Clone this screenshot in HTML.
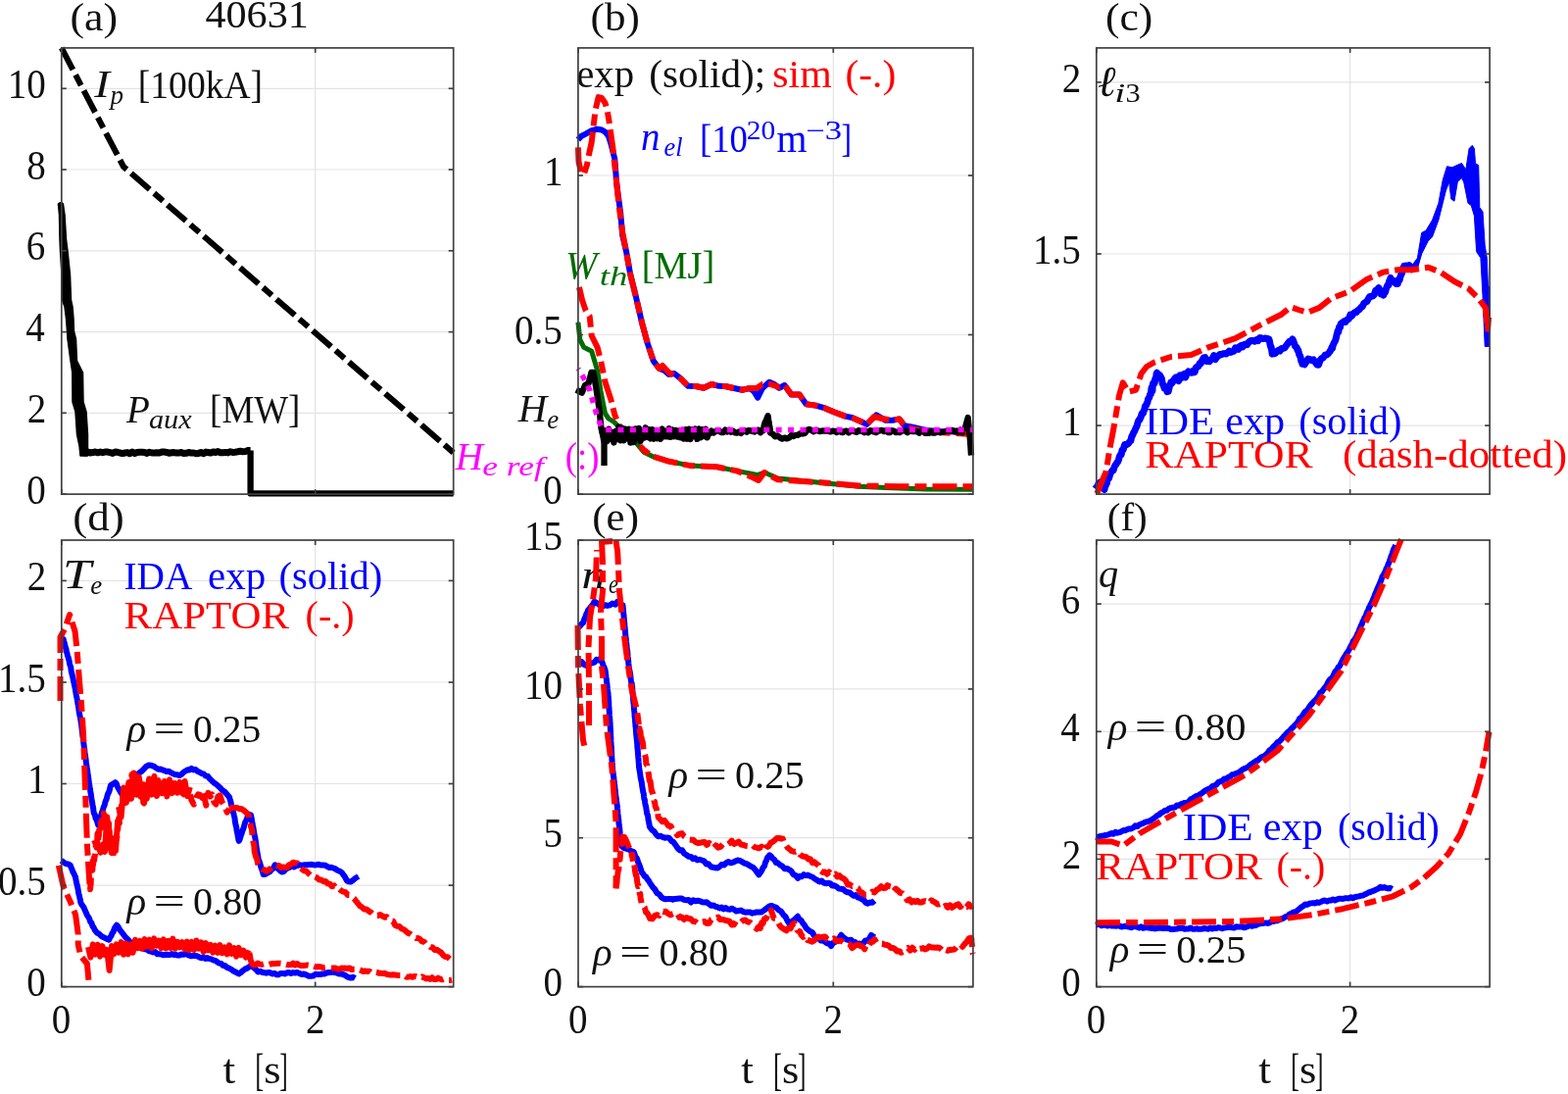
<!DOCTYPE html>
<html><head><meta charset="utf-8"><style>
html,body{margin:0;padding:0;background:#fff;width:1600px;height:1116px;overflow:hidden}
svg{display:block}

.g{stroke:#e3e3e3;stroke-width:1.2;fill:none}
.ax{stroke:#404040;stroke-width:1.7;fill:none}
.tk{stroke:#404040;stroke-width:1.7}
text{font-family:'Liberation Serif', 'DejaVu Serif', serif;}
.t{font-size:42px;fill:#222}
.i{font-style:italic}
.L{font-size:39px}
.k{stroke:#000;stroke-width:6.3;fill:none;stroke-linejoin:round;stroke-linecap:butt}
.k7{stroke:#000;stroke-width:7;fill:none;stroke-linejoin:round}
.kdd{stroke:#000;stroke-width:6;fill:none;stroke-dasharray:25 6 12 6;stroke-linejoin:round}
.b{stroke:#0000ff;stroke-width:6;fill:none;stroke-linejoin:round}
.bt{stroke:#0000ff;stroke-width:7;fill:none;stroke-linejoin:round}
.r{stroke:#ff0000;stroke-width:6;fill:none;stroke-linejoin:round}
.rdd{stroke:#ff0000;stroke-width:6;fill:none;stroke-dasharray:25 6 12 6;stroke-linejoin:round}
.gr{stroke:#006c00;stroke-width:5;fill:none;stroke-linejoin:round}
.m{stroke:#ff00ff;stroke-width:5.6;fill:none;stroke-dasharray:6 6.4;stroke-dashoffset:4.7}
</style></head><body>
<div id="w"><svg width="1600" height="1116" viewBox="0 0 1600 1116">
<rect width="1600" height="1116" fill="#fff"/>
<line x1="62.8" y1="421.3" x2="462.7" y2="421.3" class="g"/>
<line x1="62.8" y1="338.6" x2="462.7" y2="338.6" class="g"/>
<line x1="62.8" y1="255.8" x2="462.7" y2="255.8" class="g"/>
<line x1="62.8" y1="173.0" x2="462.7" y2="173.0" class="g"/>
<line x1="62.8" y1="90.3" x2="462.7" y2="90.3" class="g"/>
<line x1="321.7" y1="48.9" x2="321.7" y2="504.1" class="g"/>
<line x1="589.9" y1="341.5" x2="992.9" y2="341.5" class="g"/>
<line x1="589.9" y1="179.0" x2="992.9" y2="179.0" class="g"/>
<line x1="850.3" y1="48.9" x2="850.3" y2="504.1" class="g"/>
<line x1="1118.8" y1="434.1" x2="1520.1" y2="434.1" class="g"/>
<line x1="1118.8" y1="259.0" x2="1520.1" y2="259.0" class="g"/>
<line x1="1118.8" y1="83.9" x2="1520.1" y2="83.9" class="g"/>
<line x1="1377.6" y1="48.9" x2="1377.6" y2="504.1" class="g"/>
<line x1="62.8" y1="903.1" x2="462.7" y2="903.1" class="g"/>
<line x1="62.8" y1="799.5" x2="462.7" y2="799.5" class="g"/>
<line x1="62.8" y1="696.0" x2="462.7" y2="696.0" class="g"/>
<line x1="62.8" y1="592.4" x2="462.7" y2="592.4" class="g"/>
<line x1="321.7" y1="551.0" x2="321.7" y2="1006.6" class="g"/>
<line x1="590.0" y1="854.7" x2="992.9" y2="854.7" class="g"/>
<line x1="590.0" y1="702.9" x2="992.9" y2="702.9" class="g"/>
<line x1="850.3" y1="551.0" x2="850.3" y2="1006.6" class="g"/>
<line x1="1118.8" y1="876.4" x2="1520.1" y2="876.4" class="g"/>
<line x1="1118.8" y1="746.3" x2="1520.1" y2="746.3" class="g"/>
<line x1="1118.8" y1="616.1" x2="1520.1" y2="616.1" class="g"/>
<line x1="1377.6" y1="551.0" x2="1377.6" y2="1006.6" class="g"/>
<text x="71.5" y="30.5" font-size="40" fill="#111" textLength="48.6" lengthAdjust="spacingAndGlyphs">(a)</text>
<text x="602.6" y="30.5" font-size="40" fill="#111" textLength="50.2" lengthAdjust="spacingAndGlyphs">(b)</text>
<text x="1128.0" y="30.5" font-size="40" fill="#111" textLength="48.3" lengthAdjust="spacingAndGlyphs">(c)</text>
<text x="74.2" y="540.5" font-size="40" fill="#111" textLength="52.6" lengthAdjust="spacingAndGlyphs">(d)</text>
<text x="604.3" y="540.5" font-size="40" fill="#111" textLength="47.7" lengthAdjust="spacingAndGlyphs">(e)</text>
<text x="1129.7" y="540.5" font-size="40" fill="#111" textLength="41.1" lengthAdjust="spacingAndGlyphs">(f)</text>
<text x="209.4" y="27.8" font-size="40" fill="#111" textLength="105.5" lengthAdjust="spacingAndGlyphs">40631</text>
<text x="96.2" y="99.2" font-size="40.5" fill="#111" font-style="italic" textLength="15.7" lengthAdjust="spacingAndGlyphs">I</text>
<text x="112.6" y="106.0" font-size="27" fill="#111" font-style="italic">p</text>
<text x="140.8" y="99.8" font-size="39" fill="#111" textLength="127.3" lengthAdjust="spacingAndGlyphs">[100kA]</text>
<text x="129.1" y="430.6" font-size="39" fill="#111" font-style="italic">P</text>
<text x="151.9" y="437.0" font-size="27" fill="#111" font-style="italic" textLength="43.8" lengthAdjust="spacingAndGlyphs">aux</text>
<text x="214.1" y="430.6" font-size="39" fill="#111" textLength="92.2" lengthAdjust="spacingAndGlyphs">[MW]</text>
<text x="588.2" y="89.4" font-size="39" fill="#111" textLength="59.0" lengthAdjust="spacingAndGlyphs">exp</text>
<text x="662.3" y="89.4" font-size="39" fill="#111" textLength="118.9" lengthAdjust="spacingAndGlyphs">(solid);</text>
<text x="788.3" y="89.4" font-size="39" fill="#ff0000" textLength="60.5" lengthAdjust="spacingAndGlyphs">sim</text>
<text x="862.5" y="89.4" font-size="39" fill="#ff0000" textLength="51.8" lengthAdjust="spacingAndGlyphs">(-.)</text>
<text x="654.1" y="152.8" font-size="39" fill="#0000ff" font-style="italic">n</text>
<text x="677.6" y="159.4" font-size="27" fill="#0000ff" font-style="italic" textLength="19.0" lengthAdjust="spacingAndGlyphs">el</text>
<text x="713.9" y="155.0" font-size="39" fill="#0000ff" textLength="49.1" lengthAdjust="spacingAndGlyphs">[10</text>
<text x="761.7" y="141.5" font-size="27" fill="#0000ff" textLength="29.5" lengthAdjust="spacingAndGlyphs">20</text>
<text x="792.5" y="155.0" font-size="39" fill="#0000ff" textLength="31.0" lengthAdjust="spacingAndGlyphs">m</text>
<text x="822.3" y="141.5" font-size="27" fill="#0000ff" textLength="36.9" lengthAdjust="spacingAndGlyphs">−3</text>
<text x="858.4" y="155.0" font-size="39" fill="#0000ff" textLength="10.5" lengthAdjust="spacingAndGlyphs">]</text>
<text x="577.1" y="284.3" font-size="39" fill="#006c00" font-style="italic">W</text>
<text x="611.7" y="290.5" font-size="27" fill="#006c00" font-style="italic" textLength="28.7" lengthAdjust="spacingAndGlyphs">th</text>
<text x="654.8" y="284.3" font-size="39" fill="#006c00" textLength="74.4" lengthAdjust="spacingAndGlyphs">[MJ]</text>
<text x="528.8" y="429.8" font-size="39" fill="#111" font-style="italic" textLength="29.3" lengthAdjust="spacingAndGlyphs">H</text>
<text x="558.2" y="436.5" font-size="27" fill="#111" font-style="italic">e</text>
<text x="464.7" y="478.8" font-size="39" fill="#ff00ff" font-style="italic">H</text>
<text x="492.3" y="484.6" font-size="27" fill="#ff00ff" font-style="italic" textLength="62.4" lengthAdjust="spacingAndGlyphs">e ref</text>
<text x="576.8" y="478.8" font-size="39" fill="#ff00ff" textLength="34.7" lengthAdjust="spacingAndGlyphs">(:)</text>
<text x="1119.9" y="98.3" font-size="44" fill="#111" font-style="italic" textLength="18.5" lengthAdjust="spacingAndGlyphs">ℓ</text>
<text x="1137.2" y="103.5" font-size="27" fill="#111" font-style="italic" textLength="11.1" lengthAdjust="spacingAndGlyphs">i</text>
<text x="1148.5" y="104.0" font-size="28" fill="#111" textLength="15.2" lengthAdjust="spacingAndGlyphs">3</text>
<text x="1168.1" y="442.6" font-size="39" fill="#0000ff" textLength="71.1" lengthAdjust="spacingAndGlyphs">IDE</text>
<text x="1250.2" y="442.6" font-size="39" fill="#0000ff" textLength="61.0" lengthAdjust="spacingAndGlyphs">exp</text>
<text x="1325.3" y="442.6" font-size="39" fill="#0000ff" textLength="105.0" lengthAdjust="spacingAndGlyphs">(solid)</text>
<text x="1168.3" y="477.0" font-size="39" fill="#ff0000" textLength="171.2" lengthAdjust="spacingAndGlyphs">RAPTOR</text>
<text x="1369.9" y="477.0" font-size="39" fill="#ff0000" textLength="229.2" lengthAdjust="spacingAndGlyphs">(dash-dotted)</text>
<text x="64.1" y="599.5" font-size="42.5" fill="#111" font-style="italic" textLength="29.1" lengthAdjust="spacingAndGlyphs">T</text>
<text x="92.2" y="606.0" font-size="27" fill="#111" font-style="italic">e</text>
<text x="126.5" y="601.2" font-size="39" fill="#0000ff" textLength="69.9" lengthAdjust="spacingAndGlyphs">IDA</text>
<text x="212.0" y="601.2" font-size="39" fill="#0000ff" textLength="59.2" lengthAdjust="spacingAndGlyphs">exp</text>
<text x="284.5" y="601.2" font-size="39" fill="#0000ff" textLength="105.8" lengthAdjust="spacingAndGlyphs">(solid)</text>
<text x="126.6" y="641.2" font-size="39" fill="#ff0000" textLength="168.5" lengthAdjust="spacingAndGlyphs">RAPTOR</text>
<text x="311.6" y="641.2" font-size="39" fill="#ff0000" textLength="50.0" lengthAdjust="spacingAndGlyphs">(-.)</text>
<text x="129.6" y="757.1" font-size="39" fill="#111" font-style="italic" textLength="19.7" lengthAdjust="spacingAndGlyphs">ρ</text>
<text x="156.6" y="757.1" font-size="39" fill="#111" textLength="32.5" lengthAdjust="spacingAndGlyphs">=</text>
<text x="197.1" y="757.1" font-size="39" fill="#111" textLength="69.1" lengthAdjust="spacingAndGlyphs">0.25</text>
<text x="129.6" y="933.4" font-size="39" fill="#111" font-style="italic" textLength="19.7" lengthAdjust="spacingAndGlyphs">ρ</text>
<text x="156.6" y="933.4" font-size="39" fill="#111" textLength="32.5" lengthAdjust="spacingAndGlyphs">=</text>
<text x="197.1" y="933.4" font-size="39" fill="#111" textLength="70.2" lengthAdjust="spacingAndGlyphs">0.80</text>
<text x="593.5" y="599.6" font-size="39" fill="#111" font-style="italic" textLength="24.8" lengthAdjust="spacingAndGlyphs">n</text>
<text x="621.0" y="605.3" font-size="27" fill="#111" font-style="italic" textLength="9.9" lengthAdjust="spacingAndGlyphs">e</text>
<text x="682.4" y="804.1" font-size="39" fill="#111" font-style="italic" textLength="19.7" lengthAdjust="spacingAndGlyphs">ρ</text>
<text x="709.4" y="804.1" font-size="39" fill="#111" textLength="32.5" lengthAdjust="spacingAndGlyphs">=</text>
<text x="749.9" y="804.1" font-size="39" fill="#111" textLength="70.7" lengthAdjust="spacingAndGlyphs">0.25</text>
<text x="605.0" y="984.7" font-size="39" fill="#111" font-style="italic" textLength="19.7" lengthAdjust="spacingAndGlyphs">ρ</text>
<text x="632.0" y="984.7" font-size="39" fill="#111" textLength="32.5" lengthAdjust="spacingAndGlyphs">=</text>
<text x="672.5" y="984.7" font-size="39" fill="#111" textLength="70.7" lengthAdjust="spacingAndGlyphs">0.80</text>
<text x="1121.1" y="599.4" font-size="39" fill="#111" font-style="italic" textLength="20.1" lengthAdjust="spacingAndGlyphs">q</text>
<text x="1130.7" y="755.3" font-size="39" fill="#111" font-style="italic" textLength="19.7" lengthAdjust="spacingAndGlyphs">ρ</text>
<text x="1157.7" y="755.3" font-size="39" fill="#111" textLength="32.5" lengthAdjust="spacingAndGlyphs">=</text>
<text x="1198.1" y="755.3" font-size="39" fill="#111" textLength="73.4" lengthAdjust="spacingAndGlyphs">0.80</text>
<text x="1206.8" y="857.4" font-size="39" fill="#0000ff" textLength="71.9" lengthAdjust="spacingAndGlyphs">IDE</text>
<text x="1288.7" y="857.4" font-size="39" fill="#0000ff" textLength="61.1" lengthAdjust="spacingAndGlyphs">exp</text>
<text x="1364.9" y="857.4" font-size="39" fill="#0000ff" textLength="104.0" lengthAdjust="spacingAndGlyphs">(solid)</text>
<text x="1118.2" y="896.7" font-size="39" fill="#ff0000" textLength="170.0" lengthAdjust="spacingAndGlyphs">RAPTOR</text>
<text x="1302.5" y="896.7" font-size="39" fill="#ff0000" textLength="49.8" lengthAdjust="spacingAndGlyphs">(-.)</text>
<text x="1132.7" y="982.0" font-size="39" fill="#111" font-style="italic" textLength="19.7" lengthAdjust="spacingAndGlyphs">ρ</text>
<text x="1159.7" y="982.0" font-size="39" fill="#111" textLength="32.5" lengthAdjust="spacingAndGlyphs">=</text>
<text x="1200.2" y="982.0" font-size="39" fill="#111" textLength="71.3" lengthAdjust="spacingAndGlyphs">0.25</text>
<path d="M62.8,48.9 L126.0,170.0 L462.7,461.8" class="kdd"/>
<path d="M59.4,208.0 L60.5,219.0 L61.0,244.0 L61.5,256.0 L63.0,280.0 L63.5,306.0 L66.0,313.0 L67.5,325.0 L68.5,338.0 L69.0,346.0 L72.0,368.0 L73.8,380.0 L74.0,410.0 L77.0,420.0 L78.5,443.0 L81.0,455.0 L82.0,465.0 L89.5,465.0 L89.5,443.0 L88.0,420.0 L85.0,410.0 L84.5,380.0 L78.5,368.0 L77.5,346.0 L75.5,338.0 L75.0,325.0 L74.0,313.0 L72.5,306.0 L71.5,280.0 L69.0,256.0 L67.5,244.0 L66.0,219.0 L64.4,208.0Z" fill="#000" stroke="#000" stroke-width="1.5" stroke-linejoin="round"/>
<circle cx="62" cy="209" r="3" fill="#000"/>
<path d="M82.0,461.5 L84.5,461.2 L87.1,462.1 L89.6,461.0 L92.1,461.9 L94.7,461.6 L97.2,461.0 L99.7,461.8 L102.3,461.0 L104.8,461.7 L107.3,461.0 L109.9,461.1 L112.4,461.7 L114.9,462.4 L117.5,461.1 L120.0,461.3 L122.5,462.0 L125.0,462.6 L127.5,462.0 L130.0,461.6 L132.5,462.7 L135.0,461.0 L137.5,462.5 L140.0,461.5 L142.5,461.2 L145.0,461.2 L147.5,461.5 L150.0,462.4 L152.5,461.3 L155.0,462.0 L157.5,462.1 L160.0,461.7 L162.5,462.0 L165.0,461.1 L167.5,461.1 L170.0,461.4 L172.5,462.3 L175.0,461.8 L177.5,461.6 L180.0,462.1 L182.5,461.9 L185.0,461.6 L187.5,462.5 L190.0,462.3 L192.5,461.5 L195.0,462.1 L197.5,462.0 L200.0,462.7 L202.5,462.4 L205.0,461.5 L207.5,462.7 L210.0,461.1 L212.5,461.5 L215.0,462.1 L217.5,460.9 L220.0,461.5 L222.5,460.6 L225.0,461.7 L227.5,461.8 L230.0,461.4 L232.5,461.9 L235.0,460.8 L237.5,461.4 L240.0,461.2 L242.6,460.8 L245.2,460.3 L247.8,460.7 L250.4,460.6 L253.0,459.5 L255.6,459.5" class="k7"/>
<path d="M255.6,459.5 L255.6,503.4 L462.7,503.4" class="k"/>
<path d="M589.9,142.5 L593.0,139.0 L597.7,136.6 L603.0,133.5 L609.6,131.7 L614.0,132.5 L617.5,134.6 L621.0,139.0 L623.4,146.5 L627.3,162.2 L629.3,187.9 L633.2,217.4 L635.2,240.0 L639.1,256.8 L643.1,279.4 L649.0,303.1 L654.9,328.7 L660.8,350.4 L666.7,368.1 L672.7,376.0 L678.0,378.0 L682.5,381.9 L688.0,381.0 L694.3,385.9 L702.2,393.8 L710.0,394.0 L718.0,395.7 L726.0,392.0 L733.8,393.8 L740.0,394.0 L747.6,395.7 L757.4,397.7 L765.0,396.0 L769.2,399.0 L773.2,405.6 L778.0,396.0 L785.0,389.8 L790.0,392.0 L795.1,395.8 L800.6,393.0 L807.5,402.6 L815.8,402.6 L822.6,412.3 L832.3,413.6 L841.9,416.4 L851.5,420.5 L862.5,424.6 L869.4,426.0 L879.0,430.2 L884.5,432.9 L894.2,423.3 L903.8,428.8 L910.7,428.8 L917.6,427.4 L923.0,434.3 L931.3,435.7 L945.0,439.0 L960.0,440.0 L975.0,440.5 L992.0,441.0" class="b"/>
<path d="M589.9,150.4 L590.5,165.0 L593.0,176.0 L595.8,178.0 L599.0,168.0 L601.5,155.0 L603.7,145.0 L606.0,125.0 L607.6,112.0 L610.6,99.1 L614.0,100.0 L617.5,105.0 L619.5,112.0 L621.4,122.8 L625.3,150.4 L628.3,178.0 L631.3,207.6 L635.2,237.0 L639.1,256.8 L643.1,279.4 L649.0,303.1 L654.9,328.7 L660.8,350.4 L666.7,368.1 L672.7,376.0 L676.0,373.0 L682.5,380.0 L688.0,383.0 L694.3,385.9 L702.2,393.8 L710.0,394.0 L718.0,395.7 L726.0,392.0 L733.8,393.8 L740.0,394.0 L747.6,395.7 L757.4,397.7 L765.0,396.0 L772.0,396.0 L778.0,392.0 L786.0,392.0 L795.1,394.8 L800.6,393.0 L807.5,402.6 L815.8,402.6 L822.6,412.3 L832.3,413.6 L841.9,416.4 L851.5,420.5 L862.5,424.6 L869.4,426.0 L879.0,430.2 L884.5,432.9 L892.0,425.0 L900.0,427.0 L910.7,428.8 L917.6,427.4 L923.0,434.3 L931.3,437.7 L945.0,440.0 L960.0,441.0 L975.0,442.0 L992.0,443.0" class="rdd"/>
<path d="M589.9,328.7 L591.8,346.5 L595.8,354.3 L603.7,358.3 L609.6,378.0 L613.0,399.0 L615.5,412.0 L617.6,422.0 L621.0,427.0 L626.6,430.5 L635.0,439.0 L648.8,451.5 L657.0,461.2 L665.3,465.3 L683.2,470.8 L703.8,474.9 L731.3,476.3 L751.9,480.4 L772.6,484.5 L780.0,482.0 L793.8,488.0 L821.3,490.7 L848.8,493.4 L876.3,496.2 L903.8,497.6 L945.0,498.9 L992.0,499.2" class="gr"/>
<path d="M591.0,293.0 L594.0,306.0 L597.7,316.9 L601.7,322.8 L603.7,342.5 L609.6,354.3 L613.5,370.1 L617.5,389.8 L623.4,407.6 L627.3,423.3 L633.2,437.1 L645.0,447.0 L657.0,459.0 L665.3,465.3 L683.2,470.8 L703.8,474.9 L731.3,476.3 L751.9,480.4 L768.0,487.0 L774.0,490.0 L780.0,482.0 L793.8,489.3 L835.0,492.0 L876.3,495.5 L917.6,496.2 L992.0,496.2" class="rdd"/>
<path d="M587.9,397.7 L593.8,400.6 L597.0,393.0 L600.6,391.0 L603.4,380.0 L605.6,380.0 L608.6,397.7 L611.5,417.4 L613.5,437.1 L615.5,445.0" class="k"/>
<path d="M614.5,440.0 L616.2,449.8 L617.9,439.2 L619.6,450.1 L621.3,437.7 L623.0,446.9 L624.7,441.4 L626.4,451.5 L628.1,439.9 L629.8,447.9 L631.5,435.5 L633.2,449.3 L634.9,436.5 L636.6,449.4 L638.3,437.6 L640.0,447.4 L641.7,437.7 L643.4,451.7 L645.1,438.3 L646.8,451.0 L648.5,437.5 L650.2,446.9 L651.9,436.9 L653.6,450.1 L655.3,439.7 L657.0,446.7 L658.7,436.3 L660.4,446.0 L662.1,438.1 L663.8,447.5 L665.5,438.1 L667.2,447.7 L668.9,439.3 L670.6,447.2 L672.3,439.1 L674.0,447.8 L675.7,437.5 L677.4,444.5 L679.1,440.3 L680.8,445.0 L682.5,437.1 L684.2,445.8 L685.9,438.4 L687.6,445.3 L689.3,438.9 L691.0,445.6 L692.7,439.5 L694.4,446.4 L696.1,438.6 L697.8,447.6 L699.5,438.2 L701.2,447.7 L702.9,437.6 L704.6,448.0 L706.3,438.3 L708.0,444.8 L709.7,437.5 L711.4,447.9 L713.1,437.4 L714.8,446.3 L716.5,438.1 L718.2,445.0 L719.9,437.6 L721.6,446.4 L723.3,439.8" class="k"/>
<path d="M614,438 L660,438 L700,437.5 L722,438 L722,447 L660,449 L614,451 Z" fill="#000"/>
<path d="M616.5,440.0 L616.5,475.0" class="k"/>
<path d="M720.0,439.7 L722.0,442.0 L724.0,442.3 L726.0,439.5 L728.0,441.5 L730.0,440.2 L732.0,439.4 L734.0,439.7 L736.0,441.0 L738.0,441.2 L740.0,438.6 L742.0,440.4 L744.0,438.7 L746.0,440.8 L748.0,439.7 L750.0,441.4 L752.0,441.7 L754.0,440.4 L756.0,441.9 L758.0,439.9 L760.0,439.2 L762.0,440.7 L764.0,439.0 L766.0,439.4 L768.0,440.0 L770.0,440.6 L772.0,439.1 L774.0,438.7 L776.0,441.2 L778.0,439.4 L778.6,439.4 L779.2,437.2 L779.8,433.6 L780.4,431.9 L781.0,430.1 L781.9,428.4 L782.7,426.3 L783.6,424.2 L783.9,426.4 L784.2,429.3 L784.5,430.0 L784.8,431.8 L785.1,434.7 L785.4,435.2 L785.7,437.4 L786.0,441.4 L788.5,442.7 L791.0,445.4 L793.4,444.5 L795.8,446.4 L798.2,447.6 L800.6,446.6 L802.9,447.4 L805.2,446.6 L807.5,444.0 L809.8,445.0 L812.1,443.8 L814.4,443.8 L816.7,442.1 L819.0,442.5 L821.3,441.9 L823.5,438.8 L825.8,438.0 L828.0,438.9 L830.3,440.3 L832.7,438.6 L835.0,439.7 L837.1,440.1 L839.2,439.4 L841.2,439.6 L843.3,439.5 L845.4,439.7 L847.5,440.4 L849.6,439.6 L851.7,439.9 L853.8,441.1 L855.8,439.0 L857.9,440.6 L860.0,441.2 L862.0,439.9 L864.0,439.6 L866.0,441.3 L868.0,439.6 L870.0,439.4 L872.0,440.2 L874.0,440.9 L876.0,439.1 L878.0,439.7 L880.0,439.8 L882.0,441.2 L884.0,440.0 L886.0,441.2 L888.0,439.2 L890.0,439.6 L892.0,440.6 L894.0,441.2 L896.0,439.9 L898.0,439.2 L900.0,438.9 L902.0,440.1 L904.0,439.1 L906.0,441.0 L908.0,441.1 L910.0,439.2 L912.0,439.5 L914.0,441.1 L916.0,440.6 L918.0,441.1 L920.0,439.8 L922.0,439.2 L924.0,439.7 L926.0,441.2 L928.0,439.7 L930.0,439.9 L932.0,440.2 L934.0,440.2 L936.0,440.2 L938.0,441.7 L940.0,439.5 L942.0,439.0 L944.0,441.8 L946.0,441.6 L948.0,441.9 L950.0,440.2 L952.0,441.7 L954.0,441.6 L956.0,439.5 L958.0,441.0 L960.0,441.3 L962.0,440.7 L964.0,440.3 L966.0,439.6 L968.0,439.7 L970.0,439.3 L972.0,438.8 L974.0,440.4 L976.0,439.5 L978.0,441.0 L980.0,438.7 L982.0,441.2 L984.0,440.0" class="k"/>
<path d="M984.0,440.0 L986.0,432.0 L987.7,426.0 L989.0,440.0 L990.0,450.0 L991.0,464.5" class="k"/>
<path d="M589.9,376.0 L595.8,385.9 L601.7,397.7 L605.6,411.5 L609.6,425.3 L613.5,435.2 L618.0,438.5 L992.9,438.5" class="m"/>
<path d="M1440.0,271.8 L1446.4,263.2 L1450.7,237.4 L1455.0,235.2 L1461.5,224.5 L1467.9,207.3 L1472.2,183.7 L1476.5,169.7 L1481.9,170.8 L1486.2,168.7 L1491.5,166.5 L1495.8,173.0 L1499.1,151.5 L1502.3,148.3 L1504.4,151.5 L1505.5,166.5 L1508.7,168.7 L1509.8,211.6 L1513.0,215.9 L1515.2,250.3 L1517.3,263.2 L1518.4,291.1 L1520.5,293.2 L1520.5,308.3 L1519.5,353.4 L1515.2,353.4 L1513.0,301.8 L1510.9,263.2 L1506.6,256.7 L1504.4,220.2 L1501.2,209.5 L1498.0,207.3 L1493.7,185.8 L1491.5,181.5 L1487.3,185.8 L1484.0,205.2 L1480.8,203.0 L1478.7,185.8 L1475.4,194.4 L1472.2,207.3 L1467.9,224.5 L1461.5,241.7 L1457.2,246.0 L1450.7,258.9 L1446.4,273.9 L1440.0,278.2Z" fill="#0000ff" stroke="#0000ff" stroke-width="1" stroke-linejoin="round"/>
<path d="M1117.5,498.7 L1118.4,497.5 L1119.2,496.7 L1120.1,496.0 L1121.0,493.1 L1122.5,492.0 L1124.0,491.3 L1124.8,494.4 L1125.5,494.6 L1126.2,497.9 L1127.0,499.4 L1127.5,496.6 L1128.0,496.1 L1128.5,494.4 L1129.0,492.8 L1129.5,492.8 L1130.0,488.9 L1130.8,487.2 L1131.6,487.9 L1132.4,484.9 L1133.2,482.8 L1134.0,481.6 L1135.0,479.9 L1136.1,479.7 L1137.2,476.0 L1138.2,474.3 L1139.0,473.6 L1139.8,471.8 L1140.6,471.2 L1141.4,469.2 L1142.2,466.3 L1143.0,464.2 L1143.7,464.3 L1144.3,463.2 L1145.0,459.2 L1145.6,459.5 L1146.3,458.3 L1146.9,456.2 L1147.6,453.6 L1149.5,453.8 L1151.4,452.4 L1153.3,449.8 L1153.9,449.5 L1154.4,446.8 L1155.0,444.9 L1155.6,444.1 L1156.2,442.6 L1156.7,441.3 L1157.3,440.4 L1157.9,439.4 L1158.4,438.2 L1159.0,436.7 L1159.8,435.3 L1160.5,433.2 L1161.2,430.5 L1162.0,428.6 L1162.8,428.3 L1163.5,426.6 L1164.2,425.4 L1165.0,422.4 L1165.8,421.1 L1166.5,421.5 L1167.1,419.1 L1167.8,417.8 L1168.4,414.6 L1169.0,413.9 L1169.6,413.6 L1170.2,411.4 L1170.9,410.7 L1171.5,407.1 L1172.1,406.2 L1172.8,405.5 L1173.4,403.0 L1174.0,401.6" class="bt"/>
<path d="M1174.0,403.4 L1174.5,400.5 L1174.9,396.2 L1175.4,394.6 L1175.9,398.8 L1176.4,391.8 L1176.8,390.8 L1177.3,390.2 L1177.8,391.2 L1178.2,390.6 L1178.7,386.7 L1179.2,385.4 L1179.7,385.8 L1180.1,381.1 L1180.6,380.2 L1181.5,383.2 L1182.5,384.9 L1183.4,382.5 L1184.4,384.5 L1185.3,386.2 L1186.2,391.5 L1187.2,392.9 L1188.2,396.2 L1189.1,396.5 L1190.0,394.8 L1191.0,399.6 L1192.2,399.4 L1193.5,393.8 L1194.8,390.1 L1196.0,390.8 L1197.2,388.7 L1198.5,386.4 L1199.9,384.9 L1201.3,384.7 L1202.7,388.7 L1204.1,382.8 L1205.5,385.7 L1206.9,382.3 L1208.3,381.5 L1209.7,384.9 L1211.3,380.6 L1212.8,378.9 L1214.4,379.7 L1216.0,380.3 L1217.5,378.3 L1219.1,379.5 L1220.4,375.0 L1221.6,374.2 L1222.9,373.8 L1224.2,370.6 L1225.4,370.7 L1226.7,367.5 L1228.2,365.0 L1229.7,364.6 L1231.2,368.4 L1232.7,367.8 L1234.2,368.7 L1235.7,366.7 L1237.2,365.6 L1238.7,362.6 L1240.2,366.6 L1241.7,364.0" class="bt"/>
<path d="M1241.7,362.6 L1243.3,363.1 L1244.8,361.5 L1246.4,361.7 L1248.0,360.8 L1249.6,360.6 L1251.2,361.0 L1252.7,359.8 L1254.3,358.1 L1255.9,359.4 L1257.4,358.6 L1259.0,358.3 L1260.6,354.8 L1262.1,356.2 L1263.6,356.4 L1265.1,353.4 L1266.6,352.4 L1268.1,353.9 L1269.6,351.5 L1271.1,350.9 L1272.6,351.6 L1274.1,349.3 L1275.6,347.9 L1277.2,347.5 L1278.9,347.5 L1280.5,348.3 L1282.2,346.6 L1283.8,347.6 L1285.5,344.6 L1287.1,344.8 L1288.8,345.6 L1290.7,345.1 L1292.5,345.2 L1294.4,346.8 L1294.8,345.9 L1295.2,347.1 L1295.5,348.0 L1295.9,351.1 L1296.3,352.0 L1296.7,354.1 L1297.1,353.9 L1297.4,355.4 L1297.8,358.3 L1298.2,361.1 L1299.8,358.9 L1301.3,360.5 L1302.9,358.6 L1304.5,357.4 L1306.0,358.1 L1307.6,355.5 L1309.2,355.5 L1310.8,355.0 L1312.4,352.6 L1314.1,350.4 L1315.7,348.3 L1317.3,348.6 L1318.9,345.9 L1319.8,348.0 L1320.6,350.2 L1321.5,353.1 L1322.3,353.6 L1323.2,354.6 L1324.0,357.3 L1324.5,356.9 L1325.1,358.8 L1325.6,361.4 L1326.2,362.6 L1326.7,363.0 L1327.2,365.3 L1327.8,368.4 L1328.3,367.9 L1328.9,371.1 L1329.4,370.4 L1331.2,371.8 L1333.0,369.1 L1334.8,366.0 L1336.6,366.5 L1338.4,367.7 L1340.2,366.8 L1342.1,369.3 L1343.9,372.0 L1345.5,372.2 L1347.1,367.5 L1348.7,365.5 L1350.3,364.9 L1352.0,362.3 L1353.6,362.0 L1355.2,360.9 L1356.8,358.9 L1358.4,356.2 L1359.0,354.2 L1359.5,355.5 L1360.1,352.6 L1360.7,351.2 L1361.3,349.6 L1361.8,348.8 L1362.4,348.0 L1363.0,346.2 L1363.5,344.2 L1364.1,341.3 L1364.7,339.1 L1365.2,337.2 L1365.8,338.5 L1366.4,334.0 L1367.0,334.3 L1367.5,333.9 L1368.1,330.3 L1369.7,329.2 L1371.3,327.9 L1372.9,328.5 L1374.5,326.2 L1376.2,325.4 L1377.8,321.2 L1379.4,322.3 L1381.0,320.0 L1382.6,318.4 L1384.1,318.4 L1385.6,316.6 L1387.1,315.7 L1388.7,313.6 L1390.2,312.7 L1391.7,309.5 L1393.2,308.4 L1394.7,307.7 L1396.2,305.0 L1397.7,302.4 L1399.2,302.5 L1400.8,302.0 L1402.3,300.5 L1403.8,296.3 L1405.3,295.7 L1406.8,293.6 L1408.0,295.8 L1409.2,299.9 L1410.5,299.7 L1411.7,301.1 L1412.4,299.4 L1413.0,298.5 L1413.7,297.8 L1414.3,295.1 L1415.0,293.0 L1415.6,291.6 L1416.3,290.2 L1416.9,291.0 L1417.6,286.8 L1418.2,287.4 L1418.9,283.5 L1420.7,287.1 L1422.6,286.5 L1424.4,289.5 L1426.2,289.5 L1426.8,286.6 L1427.4,285.0 L1428.0,286.0 L1428.6,283.4 L1429.2,281.6 L1429.8,279.5 L1430.4,279.1 L1431.0,276.8 L1431.6,273.6 L1432.2,274.0 L1432.8,271.3 L1433.4,271.6 L1434.9,271.1 L1436.4,272.4 L1438.0,270.6 L1439.5,273.2 L1441.0,273.0" class="bt"/>
<path d="M1119.4,503.3 L1124.0,492.0 L1128.8,480.7 L1132.0,460.0 L1136.3,437.4 L1142.0,403.5 L1145.8,390.3 L1151.4,399.7 L1159.0,397.9 L1164.6,381.0 L1170.0,374.0 L1177.8,369.6 L1194.7,364.0 L1215.4,362.1 L1232.3,354.6 L1260.6,345.2 L1288.8,330.1 L1307.6,320.7 L1317.0,313.2 L1325.0,316.0 L1334.2,318.8 L1346.3,313.9 L1358.4,304.3 L1377.8,297.0 L1394.7,284.9 L1411.7,277.6 L1426.2,275.2 L1440.7,275.2 L1457.6,272.8 L1469.7,277.6 L1484.3,287.3 L1498.8,294.6 L1508.5,304.3 L1515.7,313.9 L1518.1,335.7 L1519.4,318.8" class="rdd"/>
<path d="M63.0,654.9 L64.7,652.0 L65.2,654.7 L65.8,656.0 L66.3,658.1 L66.8,660.4 L67.4,661.8 L67.9,664.4 L68.5,666.7 L69.0,669.0 L69.5,670.0 L70.1,672.4 L70.6,674.1 L71.1,677.3 L71.7,679.2 L72.2,680.3 L72.6,683.8 L73.0,685.8 L73.4,687.3 L73.8,689.2 L74.2,690.5 L74.6,692.3 L75.0,695.1 L75.5,696.4 L75.9,698.6 L76.3,700.7 L76.7,702.4 L77.1,705.1 L77.5,707.1 L77.9,709.7 L78.3,711.2 L78.7,713.4 L79.1,715.3 L79.4,717.8 L79.8,719.6 L80.1,721.4 L80.5,724.7 L80.8,726.9 L81.2,728.8 L81.6,730.7 L81.9,732.3 L82.3,734.3 L82.6,736.5 L83.0,738.3 L83.3,741.4 L83.5,742.9 L83.8,745.6 L84.0,746.9 L84.3,749.9 L84.5,751.7 L84.8,752.4 L85.0,754.7 L85.3,757.9 L85.5,759.2 L85.8,762.0 L86.0,763.1 L86.3,764.6 L86.5,767.5 L86.8,769.8 L87.0,771.0 L87.3,772.7 L87.6,775.1 L87.9,778.2 L88.2,779.8 L88.4,780.8 L88.7,783.0 L89.0,784.8 L89.3,786.7 L89.6,789.9 L89.9,790.9 L90.2,793.6 L90.5,795.4 L90.7,797.0 L91.0,799.9 L91.3,800.9 L91.6,803.7 L92.0,805.0 L92.3,807.7 L92.7,809.5 L93.0,811.8 L93.4,815.0 L93.8,816.9 L94.1,818.3 L94.5,821.4 L94.8,822.5 L95.2,824.9 L95.5,827.8 L95.9,829.6 L96.8,831.1 L97.6,834.9 L98.5,836.0 L99.3,838.5 L100.2,841.6 L100.8,838.9 L101.5,836.8 L102.1,834.4 L102.8,832.4 L103.4,831.1 L104.0,828.5 L104.7,827.1 L105.3,824.7 L106.0,822.8 L106.6,821.5 L107.3,818.6 L108.0,816.6 L108.8,814.9 L109.5,811.7 L110.2,809.5 L110.9,808.5 L111.7,806.2 L112.4,803.2 L113.1,800.9 L115.3,799.8 L117.6,798.2 L118.7,799.2 L119.9,802.6 L121.0,804.6 L122.0,806.3 L123.1,808.2 L124.2,809.8 L125.2,811.9 L126.4,811.3 L127.6,808.1 L128.8,806.9 L130.0,804.1 L131.2,803.0 L132.4,800.7 L134.0,798.2 L135.6,795.9 L137.2,794.8 L138.9,791.7 L140.5,790.0 L142.1,788.5 L144.5,786.8 L146.9,784.3 L149.4,781.7 L151.8,780.6 L154.2,780.7 L156.7,781.6 L159.1,783.2 L161.5,784.7 L163.6,784.6 L165.6,785.3 L167.7,786.1 L169.8,787.0 L171.9,786.8 L173.9,787.7 L176.0,789.0 L178.4,790.0 L180.9,790.3 L183.3,791.1 L185.3,789.7 L187.3,787.8 L189.4,786.5 L191.4,785.2 L193.4,785.5 L195.4,783.9 L197.5,785.4 L199.5,784.9 L201.6,786.9 L203.7,787.7 L205.8,789.1 L207.8,789.5 L209.9,791.6 L212.0,791.8 L214.0,794.3 L216.1,796.4 L218.2,798.4 L220.3,799.8 L222.3,801.5 L224.4,803.4 L226.8,806.0 L229.2,807.5 L231.7,810.5 L234.1,813.2 L234.6,815.3 L235.2,816.8 L235.7,819.5 L236.2,821.8 L236.8,823.5 L237.3,825.7 L237.8,827.5 L238.4,830.0 L238.9,832.2 L239.3,833.4 L239.7,836.3 L240.0,838.9 L240.4,840.8 L240.8,842.6 L241.2,844.1 L241.5,846.7 L241.9,848.5 L242.3,850.3 L242.7,853.0 L243.0,853.8 L243.4,857.0 L243.8,857.8 L244.5,856.7 L245.2,854.4 L245.9,851.9 L246.5,850.6 L247.2,848.2 L247.9,846.3 L248.6,844.7 L249.4,841.4 L250.2,838.9 L251.1,837.2 L251.9,835.6 L252.7,832.7 L253.5,830.5 L256.0,831.6 L256.4,833.4 L256.8,835.2 L257.1,838.1 L257.5,839.4 L257.9,842.1 L258.3,843.5 L258.7,845.9 L259.1,848.5 L259.4,850.7 L259.8,852.6 L260.2,853.8 L260.5,856.2 L260.8,857.7 L261.1,859.5 L261.4,862.1 L261.7,864.6 L262.1,866.7 L262.4,868.5 L262.7,870.9 L263.0,871.8 L263.3,873.7 L263.6,876.1 L264.3,878.0 L265.1,880.1 L265.8,882.6 L266.5,885.1 L267.2,887.1 L268.0,889.0 L268.7,892.0 L271.0,891.7 L273.2,890.3 L275.5,889.1 L277.2,886.8 L278.9,885.9 L280.6,882.3 L282.9,885.6 L285.2,887.6 L287.5,889.5 L289.6,889.0 L291.8,886.5 L293.9,885.4 L296.0,884.6 L298.0,883.6 L300.1,884.5 L302.1,883.3 L304.2,882.8 L306.2,882.3 L308.6,882.9 L311.0,882.2 L313.3,882.2 L315.7,881.9 L318.1,881.8 L320.5,882.4 L322.9,882.3 L325.2,881.8 L327.6,882.6 L330.0,882.5 L332.0,882.8 L334.0,884.1 L336.0,885.0 L338.0,884.8 L340.0,885.5 L342.0,886.2 L344.3,887.8 L346.5,888.7 L348.8,890.0 L350.2,892.2 L351.5,893.7 L352.9,896.4 L354.2,898.6 L355.6,899.3 L357.9,899.6 L360.1,898.1 L362.4,896.0 L365.8,894.0" class="b"/>
<path d="M62.3,877.9 L64.7,879.4 L67.1,881.1 L69.5,881.4 L71.9,882.9 L72.8,885.4 L73.6,887.3 L74.5,889.6 L75.3,890.9 L76.2,893.2 L77.0,894.5 L77.4,897.4 L77.9,899.7 L78.3,901.5 L78.8,903.7 L79.2,905.0 L79.7,908.1 L80.1,910.4 L80.5,912.4 L81.0,913.8 L81.4,916.3 L81.9,917.6 L82.3,920.7 L83.4,922.8 L84.5,924.1 L85.6,925.9 L86.7,928.6 L87.8,931.0 L88.9,933.5 L90.0,935.3 L91.1,936.9 L92.2,940.4 L93.4,941.4 L94.5,944.9 L95.6,946.1 L96.7,948.6 L98.9,951.5 L101.1,952.7 L103.3,954.8 L105.9,956.3 L108.6,957.6 L111.2,958.6 L112.3,956.3 L113.5,954.7 L114.6,951.9 L115.7,950.5 L116.8,947.1 L118.0,945.2 L119.1,943.6 L120.7,945.6 L122.3,948.6 L124.0,950.7 L125.6,952.8 L127.6,955.6 L129.6,957.5 L131.5,959.4 L133.5,961.8 L135.5,963.4 L137.6,964.4 L139.6,964.2 L141.7,966.1 L143.7,967.1 L145.8,967.3 L147.8,968.3 L149.9,968.5 L151.9,970.0 L154.1,970.6 L156.3,971.4 L158.4,971.1 L160.6,973.3 L162.8,973.2 L165.0,973.6 L167.0,974.3 L169.0,973.9 L171.0,973.8 L173.1,974.1 L175.1,973.1 L177.1,973.9 L179.1,973.7 L181.1,974.5 L183.1,974.5 L185.2,973.4 L187.2,973.8 L189.2,973.2 L191.2,973.7 L193.2,974.7 L195.2,975.3 L197.3,975.0 L199.3,975.1 L201.3,975.3 L203.3,976.4 L205.4,977.3 L207.4,976.5 L209.4,977.9 L211.4,977.1 L213.5,977.8 L215.5,978.3 L217.5,979.4 L219.5,979.9 L221.5,981.1 L223.5,982.6 L225.6,982.9 L227.6,985.0 L229.6,985.1 L231.6,986.9 L233.6,987.6 L235.6,988.6 L237.7,990.2 L239.7,991.2 L241.7,992.2 L243.7,993.4 L245.9,992.0 L248.1,989.9 L250.3,988.4 L252.5,987.6 L254.7,986.1 L256.9,984.3 L259.1,987.1 L261.2,988.9 L263.4,991.5 L265.5,990.8 L267.5,991.8 L269.6,992.2 L271.7,992.7 L273.8,992.0 L275.8,992.3 L277.9,993.5 L280.0,992.7 L282.0,994.2 L284.1,994.3 L286.2,992.9 L288.4,992.9 L290.5,993.4 L292.6,992.5 L294.7,992.0 L296.9,993.0 L299.0,992.1 L301.1,992.5 L303.4,992.0 L305.6,993.0 L307.9,994.0 L310.2,993.5 L312.4,994.4 L314.7,995.7 L317.1,995.7 L319.5,995.5 L321.8,993.8 L324.2,994.0 L326.6,994.1 L328.8,993.5 L331.0,993.5 L333.2,992.5 L335.4,992.0 L337.6,991.9 L339.8,991.5 L342.0,992.1 L344.0,992.7 L346.1,993.5 L348.1,993.5 L350.2,994.2 L352.2,994.9 L354.2,996.4 L356.3,997.2 L358.3,997.6 L360.4,996.8 L362.4,997.9" class="b"/>
<path d="M61.5,715.0 L61.5,650.0 L65.8,642.0 L71.1,627.0 L76.5,644.0 L78.7,664.0 L80.8,692.0 L83.0,717.5 L85.1,750.0 L86.2,782.0 L87.3,814.0 L88.9,861.0 L91.3,900.3 L91.6,899.0 L92.0,907.2 L92.3,904.2 L92.7,901.6 L93.0,887.8 L93.4,886.0 L93.7,886.8 L94.0,886.9 L94.4,887.6 L94.7,878.2 L95.1,882.3 L95.4,873.7 L95.8,871.8 L96.1,878.0 L96.5,874.2 L96.8,873.2 L97.2,867.6 L97.6,867.0 L97.9,861.2 L98.3,861.0 L98.7,864.6 L99.1,863.9 L99.4,851.1 L99.8,849.7 L100.2,857.3 L100.5,852.7 L100.9,852.7 L101.5,842.8 L102.1,843.6 L102.7,839.2 L103.3,844.8 L104.0,836.5 L104.6,838.4 L105.2,841.0 L105.8,829.6 L107.0,835.1 L108.2,840.3 L109.5,845.2 L110.7,840.7 L110.9,841.9 L111.1,840.1 L111.3,853.0 L111.5,843.9 L111.7,845.9 L111.9,854.7 L112.1,855.6 L112.3,860.4 L112.5,857.0 L112.7,865.7 L112.9,857.9 L113.1,861.9 L113.9,870.6 L114.7,864.8 L115.5,870.4 L115.8,874.2 L116.1,871.6 L116.5,863.8 L116.8,859.7 L117.1,860.6 L117.4,863.7 L117.7,856.6 L118.1,851.0 L118.4,857.2 L118.7,853.1 L119.0,855.9 L119.3,854.1 L119.7,851.7 L120.0,842.9 L120.3,845.9 L120.7,836.9 L121.1,835.1 L121.5,834.2 L121.9,839.7 L122.3,837.1 L122.8,826.0 L123.2,825.6 L123.6,823.6 L124.0,821.6 L124.4,820.0 L124.8,817.9 L125.2,813.1 L126.2,816.2 L127.3,817.4 L128.3,811.8 L129.3,813.8 L130.3,807.9 L131.4,800.4 L132.4,806.5 L133.1,806.2 L133.8,795.7 L134.5,790.0 L135.2,794.8 L135.9,793.2 L136.6,791.4 L137.3,794.9 L138.0,792.6 L138.7,796.8 L139.4,788.5 L140.1,797.3 L140.8,802.8 L141.5,795.0 L142.2,797.0 L142.8,808.3 L143.5,812.6 L144.2,803.3 L144.9,813.1 L145.6,808.3 L146.3,818.8 L147.0,819.5 L147.9,811.7 L148.8,809.3 L149.7,814.8 L150.6,809.3 L151.5,810.5 L152.4,803.2 L153.3,800.3 L154.2,807.1 L156.6,801.3 L159.1,797.2 L161.5,796.2 L163.3,801.2 L165.1,803.4 L166.9,808.7 L168.7,804.0 L170.7,808.3 L172.8,804.4 L174.8,805.4 L176.8,803.2 L178.9,802.0 L180.9,801.1 L182.3,804.2 L183.6,801.8 L185.0,802.2 L186.4,806.9 L187.8,810.3 L189.1,807.0 L190.5,809.1 L192.9,806.4 L195.3,816.0 L197.8,820.7 L200.2,813.3 L202.2,810.3 L204.2,810.9 L206.2,813.9 L208.3,812.1 L210.3,821.6 L212.3,808.8 L214.3,812.7 L216.3,810.4 L218.4,818.3 L220.4,820.5 L222.4,812.5 L224.4,811.3 L226.8,818.6 L229.2,822.2 L231.7,828.6 L234.1,824.7" class="rdd"/>
<path d="M234.1,823.6 L236.1,823.8 L238.1,823.9 L240.1,824.0 L242.2,824.1 L244.2,825.2 L246.2,824.9 L248.6,826.5 L251.1,828.8 L253.5,831.5 L254.1,833.5 L254.6,837.1 L255.2,838.3 L255.7,841.1 L256.2,844.0 L256.8,845.5 L257.1,847.1 L257.4,850.7 L257.6,852.9 L257.9,853.7 L258.2,856.3 L258.5,859.4 L258.8,860.4 L259.1,861.9 L259.4,863.6 L259.6,867.9 L259.9,869.7 L260.2,870.8 L260.9,873.4 L261.7,875.5 L262.4,877.1 L263.1,881.0 L263.8,882.4 L264.6,883.6 L265.3,885.2 L267.6,886.9 L269.8,887.2 L272.1,888.8 L274.2,887.3 L276.4,885.8 L278.5,883.5 L280.6,882.2 L282.7,882.9 L284.7,883.1 L286.8,884.9 L288.8,884.4 L290.9,885.0 L292.9,884.9 L295.0,882.1 L297.0,881.7 L299.1,879.8 L301.1,880.2 L303.4,880.4 L305.6,884.3 L307.9,886.4 L310.2,888.3 L312.4,888.5 L314.7,890.9 L316.9,893.0 L319.1,892.5 L321.3,894.4 L323.4,895.3 L325.6,897.5 L327.8,897.5 L330.0,899.2 L332.2,899.0 L334.4,901.4 L336.6,901.7 L338.8,904.2 L341.0,903.4 L343.2,906.4 L345.4,906.1 L347.8,908.3 L350.2,909.6 L352.5,910.1 L354.9,913.0 L357.3,913.1 L359.3,915.1 L361.3,916.6 L363.2,919.1 L365.2,921.5 L367.2,924.1 L369.2,925.3 L371.6,927.4 L374.0,927.4 L376.3,929.4 L378.7,930.9 L381.1,933.5 L383.4,933.8 L385.6,933.9 L387.9,932.9 L390.2,934.4 L392.4,935.7 L394.7,935.2 L396.8,937.7 L398.9,939.1 L401.1,939.7 L403.2,943.8 L405.3,944.8 L407.5,944.9 L409.6,947.3 L411.8,948.0 L413.9,949.7 L416.0,951.6 L418.2,952.5 L420.3,954.1 L422.3,955.3 L424.4,956.9 L426.4,957.0 L428.5,957.9 L430.5,960.2 L432.7,960.6 L434.9,963.6 L437.1,964.1 L439.2,966.0 L441.4,966.5 L443.6,969.1 L445.8,968.8 L448.0,970.4 L450.2,971.7 L452.4,974.6 L454.5,976.1 L456.7,976.3 L458.9,978.3 L461.1,980.0" class="rdd"/>
<path d="M59.8,882.8 L64.7,904.6 L71.8,920.0 L77.1,933.1 L79.7,952.8 L79.7,963.3 L82.3,975.1 L88.9,983.0 L90.8,1004.0" class="rdd"/>
<path d="M90.0,966.2 L92.4,976.7 L94.8,963.4 L97.2,973.6 L99.6,963.7 L102.0,975.7 L104.4,965.1 L106.8,974.0 L109.2,968.9 L111.6,990.0 L114.0,965.0 L116.4,973.1 L118.8,963.4 L121.2,971.6 L123.6,961.1 L126.0,973.8 L128.4,962.4 L130.8,973.4 L133.2,963.3 L135.6,971.8 L138.0,958.7 L140.4,967.2 L142.8,959.8 L145.2,967.8 L147.6,958.1 L150.0,965.6 L152.4,958.7 L154.8,967.2 L157.2,957.4 L159.6,964.6 L162.0,959.5 L164.4,967.1 L166.8,958.3 L169.2,967.5 L171.6,959.7 L174.0,967.1 L176.4,957.6 L178.8,967.8 L181.2,960.8 L183.6,966.3 L186.0,961.1 L188.4,968.1 L190.8,960.5 L193.2,969.2 L195.6,960.8 L198.0,969.0 L200.4,959.5 L202.8,967.7 L205.2,961.3 L207.6,971.0 L210.0,962.1 L212.4,969.5 L214.8,963.8 L217.2,971.7 L219.6,964.7 L222.0,971.8 L224.4,964.1 L226.8,972.3 L229.2,966.4 L231.6,973.4 L234.0,964.3 L236.4,972.9 L238.8,967.1 L241.2,975.7 L243.6,966.9 L246.0,974.2 L248.4,969.7 L250.8,976.6 L253.2,969.2" class="r"/>
<path d="M254.3,971.9 L254.8,973.8 L255.3,976.9 L255.8,979.4 L256.3,980.8 L256.8,982.7 L258.8,984.5 L260.9,984.3 L262.9,982.5 L265.0,983.6 L267.0,983.9 L269.0,983.3 L271.0,984.0 L273.0,984.4 L275.0,983.7 L277.0,983.3 L279.0,982.9 L281.0,983.0 L283.0,982.8 L285.1,982.7 L287.1,982.9 L289.1,984.2 L291.1,983.6 L293.1,984.1 L295.1,984.3 L297.1,984.1 L299.1,982.6 L301.1,984.4 L303.2,983.0 L305.4,984.6 L307.5,985.0 L309.6,984.9 L311.7,984.7 L313.9,984.4 L316.0,984.7 L318.1,986.0 L320.2,985.5 L322.4,986.4 L324.5,986.1 L326.6,986.2 L328.6,986.6 L330.6,987.5 L332.6,987.2 L334.6,987.1 L336.6,987.4 L338.6,987.6 L340.6,987.6 L342.6,987.6 L344.7,988.7 L346.7,988.4 L348.7,987.5 L350.7,987.7 L352.7,987.6 L354.7,988.0 L356.7,987.5 L358.7,989.0 L360.7,988.7 L362.7,988.7 L364.7,990.0 L366.7,989.2 L368.7,990.0 L370.7,991.0 L372.7,990.5 L374.7,990.9 L376.7,990.7 L378.7,992.3 L380.7,992.1 L382.7,991.5 L384.7,991.9 L386.7,992.7 L388.7,992.8 L390.7,993.1 L392.7,992.8 L394.7,993.9 L396.7,994.3 L398.7,994.6 L400.7,994.2 L402.7,994.4 L404.7,994.7 L406.7,995.0 L408.7,995.0 L410.7,994.3 L412.8,995.0 L414.8,996.7 L416.8,996.6 L418.8,996.0 L420.8,996.8 L422.8,995.9 L424.8,996.2 L426.8,996.9 L428.8,997.5 L430.8,996.3 L432.8,997.4 L434.9,998.4 L436.9,997.9 L438.9,998.9 L440.9,997.2 L442.9,999.0 L445.0,999.0 L447.0,997.6 L449.0,998.7 L451.0,999.3 L453.0,998.4 L455.0,999.4 L457.1,1000.0 L459.1,1000.0 L461.1,999.6" class="rdd"/>
<path d="M121.0,823.0 L123.6,833.6 L126.2,803.5 L128.8,818.9 L131.4,798.0 L134.0,814.7 L136.6,788.5 L139.2,810.7 L141.8,792.7 L144.4,811.8 L147.0,800.4 L149.6,814.2 L152.2,794.4 L154.8,810.6 L157.4,791.8 L160.0,812.1 L162.6,800.2 L165.2,809.3 L167.8,797.0 L170.4,812.4 L173.0,795.2 L175.6,809.1 L178.2,798.9 L180.8,808.8 L183.4,797.9 L186.0,809.2 L188.6,797.0 L191.2,812.1 L193.8,802.9" class="r"/>
<path d="M96.0,856.9 L98.2,861.7 L100.4,863.8 L102.6,869.7 L104.8,861.6 L107.0,868.9 L109.2,833.2 L111.4,850.6 L113.6,869.7 L115.8,858.0 L118.0,868.0 L120.2,836.5" class="r"/>
<path d="M589.9,638.7 L591.5,639.0 L594.3,635.6 L595.1,635.4 L595.9,632.6 L596.7,630.9 L597.6,628.5 L598.4,626.1 L599.2,625.0 L600.0,622.6 L601.6,620.9 L603.2,618.5 L604.9,616.8 L606.5,613.7 L609.4,615.3 L612.3,617.7 L614.8,618.8 L617.3,617.2 L619.8,617.9 L622.3,617.4 L624.8,615.6 L628.0,616.7 L630.1,613.8 L632.3,614.7 L633.9,616.7 L635.5,617.3 L635.7,620.6 L635.9,622.6 L636.1,623.2 L636.3,626.5 L636.5,627.2 L636.7,631.2 L636.9,632.7 L637.1,635.4 L637.2,635.2 L637.4,637.9 L637.6,640.6 L637.8,642.6 L638.0,643.6 L638.2,647.3 L638.4,649.3 L638.6,650.0 L638.8,651.7 L639.0,655.0 L639.3,656.5 L639.5,659.2 L639.7,660.9 L639.9,662.8 L640.2,664.0 L640.4,666.4 L640.6,669.3 L640.9,672.0 L641.1,673.4 L641.3,676.3 L641.5,677.9 L641.8,680.8 L642.0,682.4 L642.3,683.6 L642.7,685.1 L643.0,687.0 L643.3,688.9 L643.7,692.9 L644.0,694.9 L644.3,696.6 L644.7,697.1 L645.0,700.4 L645.2,701.1 L645.4,704.9 L645.5,706.4 L645.7,708.6 L645.9,710.3 L646.0,711.8 L646.2,714.8 L646.4,717.1 L646.6,717.4 L646.8,719.8 L646.9,722.6 L647.1,724.4 L647.3,725.8 L647.5,727.9 L647.6,731.1 L647.8,731.5 L648.0,733.3 L648.1,736.4 L648.3,737.5 L648.5,741.0 L648.7,741.6 L648.9,745.1 L649.0,745.9 L649.2,749.2 L649.4,750.9 L649.6,752.9 L649.7,753.7 L649.9,755.7 L650.1,757.4 L650.3,759.9 L650.4,763.1 L650.6,763.7 L650.8,766.2 L651.0,769.0 L651.1,770.1 L651.3,772.6 L651.5,774.4 L651.7,777.5 L651.8,778.3 L652.0,782.4 L652.2,783.5 L652.6,785.9 L652.9,787.6 L653.2,789.6 L653.6,792.8 L654.0,794.7 L654.3,796.6 L654.6,796.8 L655.0,800.2 L655.4,803.1 L655.7,804.5 L656.0,806.3 L656.4,808.7 L656.8,809.7 L657.1,813.1 L657.4,815.3 L657.8,815.7 L658.2,818.9 L658.6,821.2 L659.1,822.7 L659.5,825.7 L659.9,828.4 L660.3,830.5 L660.8,831.2 L661.2,832.9 L661.6,836.7 L662.0,838.3 L662.5,840.9 L662.9,843.2 L663.3,843.9 L665.4,846.7 L667.5,848.1 L669.6,851.4 L671.7,853.3 L673.9,852.7 L676.1,853.9 L678.4,854.7 L680.6,854.4 L682.8,854.8 L685.0,857.8 L687.2,859.0 L689.5,862.2 L691.7,865.5 L693.9,867.5 L696.1,867.3 L698.3,870.8 L700.6,872.2 L702.8,873.8 L705.0,873.9 L707.2,876.2 L709.4,875.4 L711.7,877.4 L713.9,876.8 L716.1,877.5 L718.4,878.4 L720.7,881.4 L723.0,881.3 L725.4,884.2 L727.7,884.7 L730.0,885.3 L732.2,885.4 L734.4,884.0 L736.7,881.7 L738.9,882.5 L741.1,880.1 L743.4,879.0 L745.7,880.3 L748.0,879.7 L750.4,878.5 L752.7,877.5 L755.0,877.9 L757.2,879.1 L759.4,880.5 L761.7,881.1 L763.9,882.4 L766.1,883.8 L768.2,884.7 L770.2,886.7 L772.3,889.6 L774.4,892.3 L775.8,890.3 L777.2,888.2 L778.6,885.0 L780.0,883.5 L781.0,879.7 L782.0,878.0 L783.1,874.8 L784.1,874.3 L785.1,872.3 L786.8,873.5 L788.5,875.8 L790.2,876.9 L791.9,880.0 L793.6,880.3 L796.0,882.3 L798.4,883.7 L800.7,886.3 L803.1,886.0 L805.5,887.3 L807.6,888.8 L809.8,892.3 L811.9,892.8 L814.0,895.9 L816.1,893.8 L818.1,894.3 L820.2,892.1 L822.2,893.1 L824.3,892.6 L826.7,893.8 L829.1,894.7 L831.4,896.5 L833.8,897.9 L836.2,899.4 L838.4,898.5 L840.6,900.6 L842.8,901.2 L844.9,900.8 L847.1,901.1 L849.3,903.6 L851.5,903.3 L853.8,904.6 L856.0,906.6 L858.3,906.8 L860.6,907.3 L862.8,909.5 L865.1,910.3 L867.1,910.5 L869.1,912.4 L871.1,913.8 L873.1,913.1 L875.1,915.3 L877.1,916.0 L879.2,917.2 L881.4,918.1 L883.5,920.9 L885.6,921.7 L887.9,920.5 L890.1,920.8 L892.4,918.8" class="b"/>
<path d="M589.9,678.8 L593.6,675.2 L595.7,677.7 L597.9,678.8 L600.0,677.8 L602.2,677.0 L604.4,676.3 L606.5,675.7 L608.7,672.8 L610.9,673.4 L613.0,671.4 L613.9,675.1 L614.7,676.0 L615.6,679.4 L616.4,680.4 L617.3,683.0 L617.6,683.6 L617.9,686.2 L618.2,688.6 L618.5,690.9 L618.8,692.6 L619.0,695.3 L619.3,696.7 L619.6,700.0 L619.9,703.1 L620.2,705.0 L620.5,706.6 L620.6,709.5 L620.8,710.9 L620.9,712.7 L621.0,714.2 L621.2,715.4 L621.3,719.3 L621.4,721.3 L621.5,723.1 L621.7,724.9 L621.8,727.2 L621.9,729.5 L622.1,731.6 L622.2,733.1 L622.3,733.3 L622.5,737.6 L622.6,738.7 L622.7,740.4 L622.8,742.4 L622.9,744.1 L623.0,745.6 L623.1,749.0 L623.2,751.1 L623.3,751.9 L623.4,755.9 L623.5,757.9 L623.6,759.9 L623.8,761.2 L623.9,762.9 L624.0,765.1 L624.1,766.9 L624.2,770.4 L624.3,772.3 L624.4,774.3 L624.5,775.5 L624.6,777.5 L624.7,780.0 L624.8,781.1 L625.0,782.9 L625.3,786.9 L625.5,787.2 L625.8,789.3 L626.0,791.9 L626.3,793.0 L626.5,796.1 L626.8,797.3 L627.0,801.0 L627.3,801.3 L627.5,805.1 L627.8,805.8 L628.0,809.2 L628.3,811.3 L628.5,813.7 L628.8,813.9 L629.0,817.9 L629.3,818.0 L629.5,820.5 L629.8,821.8 L630.0,825.0 L630.2,826.0 L630.4,829.2 L630.7,832.2 L630.9,833.9 L631.1,835.6 L631.3,836.3 L631.5,840.5 L631.8,841.1 L632.0,844.5 L632.2,844.6 L632.4,847.0 L632.7,850.6 L632.9,852.2 L633.1,852.9 L633.3,855.6 L633.5,857.9 L633.8,859.2 L634.0,861.2 L634.2,862.9 L636.5,864.9 L638.8,865.6 L641.1,866.3 L643.9,868.0 L646.7,869.0 L647.6,871.3 L648.5,874.4 L649.5,875.1 L650.4,877.1 L651.3,880.1 L652.2,881.9 L653.2,884.5 L654.1,887.6 L655.0,890.0 L656.4,891.7 L657.8,894.1 L659.2,894.5 L660.5,896.9 L661.9,898.4 L663.3,900.9 L664.7,902.9 L666.1,905.0 L668.3,907.4 L670.5,911.1 L672.8,912.3 L675.0,915.4 L677.2,916.8 L679.5,917.3 L681.8,917.1 L684.2,916.9 L686.5,917.7 L688.8,916.9 L691.1,916.7 L693.4,916.5 L695.7,916.6 L698.0,917.9 L700.4,918.3 L702.7,918.1 L705.0,920.5 L707.3,918.2 L709.6,919.3 L712.0,918.8 L714.3,919.2 L716.6,920.2 L718.9,920.5 L721.1,920.3 L723.3,922.1 L725.6,923.7 L727.8,923.4 L730.0,924.8 L732.1,925.2 L734.2,926.5 L736.3,925.6 L738.4,927.4 L740.4,926.0 L742.5,927.5 L744.6,927.8 L746.7,926.7 L749.0,927.9 L751.3,929.5 L753.7,929.0 L756.0,928.6 L758.3,930.1 L760.6,930.7 L762.9,930.5 L765.2,930.4 L767.5,931.7 L769.8,931.0 L772.1,930.5 L774.4,930.5 L777.2,930.4 L780.0,928.4 L782.5,926.4 L785.1,924.5 L787.5,923.9 L789.9,925.1 L792.2,925.9 L794.6,928.4 L797.0,929.7 L798.4,931.7 L799.8,933.8 L801.2,934.7 L802.7,937.7 L804.1,940.2 L805.5,942.2 L807.6,940.3 L809.8,938.9 L811.9,936.8 L814.0,934.8 L815.7,938.0 L817.4,938.7 L819.2,941.8 L820.9,943.7 L822.6,946.7 L824.7,948.6 L826.9,950.2 L829.0,951.2 L831.1,955.0 L833.2,956.3 L835.4,957.4 L837.5,959.5 L839.6,959.6 L841.7,960.6 L843.9,962.2 L846.0,962.5 L848.1,965.0 L850.1,961.8 L852.2,961.0 L854.2,958.8 L856.3,957.0 L858.3,953.7 L860.3,956.0 L862.4,957.6 L864.4,958.7 L866.5,959.2 L868.5,958.8 L870.6,961.3 L872.6,960.9 L874.7,963.8 L876.7,962.6 L878.8,963.5 L880.8,962.4 L882.9,959.6 L884.9,959.7 L887.0,957.6 L889.0,953.9 L892.4,956.2" class="b"/>
<path d="M628.4,551.0 L630.2,562.9 L632.0,602.4 L633.8,620.3 L637.4,652.5 L640.9,679.4 L644.5,702.7 L649.9,724.2 L652.2,741.7" class="rdd"/>
<path d="M652.2,743.3 L652.6,743.1 L653.0,747.3 L653.5,746.3 L653.9,752.0 L654.3,751.9 L654.7,753.0 L655.1,756.0 L655.6,756.1 L656.0,758.4 L656.4,762.4 L656.8,765.0 L657.2,768.8 L657.7,768.8 L658.1,770.1 L658.5,771.9 L658.9,772.9 L659.3,778.9 L659.8,780.0 L660.2,780.2 L660.6,784.4 L661.0,786.3 L661.4,788.2 L661.9,789.5 L662.3,793.5 L662.7,795.9 L663.1,797.3 L663.6,796.9 L664.0,800.2 L664.4,803.2 L664.8,806.7 L665.3,806.8 L665.7,808.9 L666.1,809.2 L666.6,811.2 L667.1,814.1 L667.6,817.9 L668.1,817.9 L668.6,822.3 L669.2,823.8 L669.7,824.3 L670.2,827.3 L670.7,830.7 L671.2,829.2 L671.7,833.9 L673.8,835.8 L675.9,838.2 L677.9,836.8 L680.0,839.5 L682.2,842.5 L684.4,842.5 L686.7,846.8 L688.9,848.9 L691.1,852.0 L693.4,850.6 L695.7,850.1 L698.0,852.9 L700.4,854.5 L702.7,856.5 L705.0,856.7 L707.3,856.7 L709.6,859.0 L712.0,859.9 L714.3,859.8 L716.6,859.2 L718.9,858.9 L721.2,861.9 L723.5,859.9 L725.8,861.8 L728.2,865.1 L730.5,862.4 L732.8,864.7 L735.1,864.0 L737.4,861.3 L739.8,861.5 L742.1,861.9 L744.4,860.2 L746.7,857.6 L749.0,860.9 L751.3,860.0 L753.7,858.6 L756.0,861.5 L758.3,861.9 L760.6,862.8 L762.9,863.0 L765.2,863.3 L767.5,862.0 L769.8,864.1 L772.1,864.6 L774.4,865.3 L777.2,863.7 L780.0,868.1 L782.1,864.2 L784.2,863.5 L786.4,859.7 L788.5,858.7 L790.6,857.1 L792.8,854.9 L794.9,854.9 L797.0,855.5 L798.7,855.5 L800.4,860.7 L802.1,862.3 L803.8,864.9 L805.5,866.1 L807.6,868.0 L809.8,868.7 L811.9,868.8 L814.0,868.1 L816.2,871.6 L818.3,873.2 L820.5,873.7 L822.6,874.1 L824.7,876.4 L826.9,876.2 L829.0,880.2 L831.1,879.4 L833.2,881.4 L835.4,882.8 L837.5,888.4 L839.6,889.9 L841.7,889.5 L843.9,891.7 L846.0,889.4 L848.1,892.2 L850.2,892.2 L852.4,891.5 L854.5,894.4 L856.6,893.2 L858.7,895.4 L860.9,896.3 L863.0,898.2 L865.1,902.6 L867.2,902.3 L869.4,904.0 L871.5,903.7 L873.6,905.3 L875.6,906.2 L877.6,910.0 L879.6,910.5 L881.6,912.4 L883.6,912.8 L885.6,912.5 L887.9,911.5 L890.1,909.6 L892.4,910.4 L894.7,907.7 L896.9,906.6 L899.2,904.1 L901.3,906.1 L903.5,905.8 L905.6,903.1 L907.7,904.1 L909.8,904.6 L912.0,909.0 L914.1,906.6 L916.2,908.3 L918.6,910.9 L921.0,911.4 L923.3,913.7 L925.7,918.4 L928.1,917.4 L930.1,920.4 L932.1,919.0 L934.2,920.1 L936.2,918.9 L938.2,920.4 L940.2,920.6 L942.2,919.5 L944.2,919.2 L946.3,919.9 L948.3,921.4 L950.3,918.3 L952.4,919.6 L954.5,920.7 L956.7,922.6 L958.8,922.2 L960.9,921.4 L963.0,924.7 L965.2,923.8 L967.3,925.6 L969.4,923.4 L971.5,925.9 L973.7,924.3 L975.8,923.2 L977.9,922.4 L980.0,925.2 L982.2,922.5 L984.3,925.3 L986.4,925.3 L988.5,922.3 L990.7,924.9 L992.8,923.9" class="rdd"/>
<path d="M589.5,638.0 L590.0,680.0 L592.0,720.0 L595.0,755.0 L597.0,764.0" class="rdd"/>
<path d="M601.0,740.0 L601.0,700.0 L600.5,660.0 L602.0,630.0 L605.0,612.0 L608.0,590.0 L609.0,561.0" class="rdd"/>
<path d="M613.0,553.0 L625.0,552.0" class="r"/>
<path d="M614.0,551.0 L615.0,575.0 L615.0,603.0 L613.0,623.0 L614.0,653.0 L614.0,680.0 L616.1,700.0 L618.9,741.7 L624.4,783.3 L628.6,838.9 L628.6,905.6" class="rdd"/>
<path d="M628.6,906.5 L628.9,901.8 L629.1,902.7 L629.4,901.5 L629.7,896.8 L629.9,895.6 L630.2,893.0 L630.5,890.2 L630.8,887.9 L631.0,888.0 L631.3,887.3 L631.6,881.6 L631.8,879.1 L632.1,879.4 L632.4,876.1 L632.6,876.8 L632.9,872.2 L633.2,869.0 L633.4,868.2 L633.7,866.6 L634.0,864.7 L634.3,862.6 L634.5,860.0 L634.8,860.9 L635.1,854.7 L635.3,853.6 L635.6,854.2 L637.0,853.8 L638.4,856.2 L639.8,859.3 L641.1,862.6 L642.5,865.8 L643.9,868.0 L644.3,867.4 L644.7,872.9 L645.2,871.7 L645.6,876.6 L646.0,878.9 L646.4,877.8 L646.9,881.1 L647.3,882.5 L647.7,885.7 L648.1,889.2 L648.6,891.5 L649.0,893.4 L649.4,892.3 L649.8,895.6 L650.3,900.5 L650.7,901.9 L651.1,904.1 L651.6,903.7 L652.0,905.7 L652.4,909.3 L652.8,912.0 L653.3,912.0 L653.7,917.4 L654.1,918.2 L654.6,921.9 L655.0,924.0 L656.4,924.1 L657.8,925.8 L659.1,930.6 L660.5,931.5 L661.9,934.2 L663.3,937.1 L665.6,937.3 L667.9,934.3 L670.2,933.2 L672.6,934.0 L674.9,929.7 L677.2,930.3 L679.5,929.8 L681.8,932.0 L684.2,933.4 L686.5,932.1 L688.8,931.6 L691.1,931.6 L693.4,936.0 L695.7,935.5 L698.0,938.0 L700.4,936.0 L702.7,937.0 L705.0,937.5 L707.3,940.0 L709.6,940.1 L712.0,941.9 L714.3,941.2 L716.6,940.5 L718.9,940.0 L721.2,942.0 L723.5,941.8 L725.8,938.1 L728.2,937.1 L730.5,937.1 L732.8,935.6 L735.1,938.1 L737.4,937.9 L739.8,938.8 L742.1,939.3 L744.4,939.7 L746.7,943.6 L749.0,943.2 L751.3,939.5 L753.7,939.8 L756.0,940.8 L758.3,938.7 L760.6,938.6 L762.9,940.6 L765.2,940.7 L767.5,942.6 L769.8,945.4 L772.1,947.7 L774.4,945.3 L775.8,946.9 L777.2,941.4 L778.6,941.9 L780.0,937.2 L781.7,937.3 L783.4,933.8 L785.1,934.2 L786.8,928.6 L788.3,932.8 L789.8,936.9 L791.3,937.1 L792.8,938.8 L794.4,941.7 L795.9,944.5 L797.4,946.1 L798.9,947.0 L800.4,948.1 L802.4,949.3 L804.5,946.7 L806.5,947.3 L808.6,943.3 L810.6,941.7 L812.0,944.5 L813.4,948.8 L814.7,949.9 L816.1,949.9 L817.5,953.6 L819.6,955.9 L821.8,954.3 L823.9,959.0 L826.0,959.5 L828.3,960.7 L830.5,959.6 L832.8,957.3 L835.1,955.5 L837.3,956.4 L839.6,955.7 L841.9,955.5 L844.1,958.2 L846.4,959.5 L848.7,958.2 L850.9,957.3 L853.2,959.9 L855.6,959.9 L858.0,959.6 L860.3,960.9 L862.7,963.2 L865.1,962.7 L867.2,963.3 L869.4,967.1 L871.5,965.5 L873.7,964.2 L875.8,963.7 L877.9,965.0 L880.1,965.4 L882.2,968.3 L884.2,963.3 L886.3,964.8 L888.3,961.3 L890.4,960.9 L892.4,958.2 L894.4,961.3 L896.5,962.6 L898.5,962.5 L900.6,962.6 L902.6,963.8 L904.7,963.9 L906.9,964.8 L909.0,967.1 L911.1,966.9 L913.2,968.1 L915.4,970.5 L917.5,970.2 L919.6,971.7 L921.9,970.7 L924.1,968.1 L926.4,966.9 L928.7,969.5 L930.9,966.8 L933.2,968.8 L935.3,966.1 L937.5,968.0 L939.6,967.6 L941.8,967.1 L943.9,968.4 L946.0,967.7 L948.2,965.4 L950.3,966.4 L952.4,966.5 L954.5,966.8 L956.7,966.5 L958.8,966.9 L960.9,969.0 L963.0,967.0 L965.2,969.1 L967.3,969.8 L969.4,968.8 L971.5,968.9 L973.7,968.6 L975.8,966.6 L977.9,964.1 L980.0,963.3 L982.2,965.8 L984.3,962.9 L986.6,960.7 L988.8,957.2 L991.1,956.8 L991.3,957.8 L991.5,960.8 L991.7,962.8 L992.0,966.5 L992.2,968.0 L992.4,970.8 L992.6,972.7 L992.8,973.2" class="rdd"/>
<path d="M1118.0,853.8 L1120.0,854.2 L1122.0,853.1 L1124.1,852.7 L1126.1,852.5 L1128.1,852.0 L1130.2,851.6 L1132.2,850.9 L1134.2,849.9 L1136.2,850.8 L1138.2,848.7 L1140.2,849.7 L1142.2,849.2 L1144.3,848.2 L1146.3,847.0 L1148.3,847.2 L1150.3,846.1 L1152.3,845.4 L1154.3,845.4 L1156.4,844.4 L1158.4,842.4 L1160.4,843.1 L1162.4,841.4 L1164.4,840.5 L1166.5,839.8 L1168.5,838.7 L1170.5,838.3 L1172.5,837.7 L1174.5,836.7 L1176.6,835.3 L1178.6,833.8 L1180.6,832.2 L1182.6,831.1 L1184.6,829.4 L1186.7,828.3 L1188.7,826.8 L1190.7,826.7 L1192.7,824.9 L1194.7,824.2 L1196.8,823.8 L1198.8,823.6 L1200.8,821.6 L1202.8,821.8 L1204.8,820.3 L1206.9,819.7 L1208.9,818.9 L1210.9,819.0 L1212.9,817.8 L1214.9,815.4 L1216.9,814.7 L1218.9,813.1 L1221.0,811.9 L1223.0,811.5 L1225.0,810.0 L1227.0,808.6 L1229.0,807.0 L1231.0,805.9 L1233.0,804.8 L1235.0,804.2 L1237.1,802.1 L1239.1,801.4 L1241.1,800.5 L1243.1,798.1 L1245.1,797.2 L1247.2,796.8 L1249.2,794.5 L1251.2,794.7 L1253.2,792.9 L1255.2,792.2 L1257.3,790.3 L1259.3,789.9 L1261.3,788.9 L1263.3,788.4 L1265.3,787.1 L1267.4,785.4 L1269.4,784.2 L1271.4,783.5 L1273.4,782.6 L1275.4,780.5 L1277.4,779.1 L1279.4,778.0 L1281.5,776.4 L1283.5,775.6 L1285.5,773.6 L1287.5,772.1 L1289.5,771.6 L1291.5,770.0 L1293.5,768.2 L1295.5,765.2 L1297.5,764.0 L1299.6,761.5 L1301.6,759.7 L1303.6,757.2 L1305.6,756.2 L1307.6,754.2 L1309.7,751.6 L1311.7,749.4 L1313.7,747.2 L1315.8,745.6 L1317.8,743.2 L1319.8,741.4 L1321.4,739.7 L1323.0,738.0 L1324.6,736.0 L1326.2,732.8 L1327.8,731.9 L1329.5,729.3 L1331.1,726.8 L1332.7,725.3 L1334.3,724.0 L1335.9,721.2 L1337.5,719.1 L1339.1,717.4 L1340.8,715.4 L1342.4,714.0 L1344.0,712.0 L1345.6,710.1 L1347.2,706.6 L1348.9,705.6 L1350.5,703.2 L1352.1,701.3 L1353.4,699.7 L1354.8,696.8 L1356.1,694.4 L1357.5,692.7 L1358.8,691.9 L1360.2,689.8 L1361.5,687.0 L1362.8,684.5 L1364.2,683.4 L1365.5,680.7 L1366.9,679.6 L1368.2,677.0 L1369.4,674.7 L1370.5,672.3 L1371.7,670.6 L1372.8,668.7 L1374.0,666.6 L1375.1,665.3 L1376.2,663.5 L1377.4,661.1 L1378.5,658.8 L1379.7,657.1 L1380.8,654.1 L1382.0,652.8 L1383.1,650.9 L1384.3,649.0 L1385.2,646.4 L1386.1,645.3 L1387.0,642.5 L1387.9,640.6 L1388.8,638.1 L1389.7,636.7 L1390.6,633.8 L1391.5,632.7 L1392.4,630.1 L1393.3,629.3 L1394.2,626.5 L1395.1,624.1 L1396.0,622.8 L1396.9,619.9 L1397.8,618.5 L1398.7,616.4 L1399.6,615.1 L1400.5,612.8 L1401.4,610.8 L1402.3,608.8 L1403.2,606.0 L1404.1,604.0 L1405.0,601.8 L1405.9,599.8 L1406.8,597.7 L1407.7,595.6 L1408.6,593.5 L1409.5,591.3 L1410.5,588.0 L1411.5,586.9 L1412.5,584.7 L1413.6,582.9 L1414.6,580.0 L1415.6,578.6 L1416.6,575.3 L1417.4,573.8 L1418.2,571.3 L1419.0,569.2 L1419.7,566.8 L1420.5,565.3 L1421.3,562.6 L1422.1,560.3 L1423.0,558.7 L1424.0,556.0" class="b"/>
<path d="M1118.0,858.5 L1134.2,858.5 L1146.3,862.6 L1162.4,850.5 L1190.7,834.3 L1231.0,812.1 L1271.4,790.0 L1303.6,765.7 L1335.9,729.4 L1368.2,685.1 L1400.5,620.5 L1416.0,585.0 L1424.7,563.0 L1430.6,548.4" class="rdd"/>
<path d="M1118.0,943.6 L1120.0,943.1 L1122.0,942.7 L1124.1,944.2 L1126.1,943.5 L1128.1,943.7 L1130.1,944.6 L1132.1,943.6 L1134.2,944.5 L1136.2,944.2 L1138.2,944.7 L1140.2,944.6 L1142.2,944.3 L1144.2,945.6 L1146.3,945.1 L1148.3,944.7 L1150.3,945.2 L1152.3,945.6 L1154.3,946.2 L1156.4,945.3 L1158.4,945.1 L1160.4,945.7 L1162.4,946.5 L1164.4,945.2 L1166.5,946.8 L1168.5,946.2 L1170.5,946.3 L1172.5,946.6 L1174.5,946.9 L1176.6,946.8 L1178.6,947.4 L1180.6,947.0 L1182.6,946.6 L1184.6,946.8 L1186.7,947.0 L1188.7,946.7 L1190.7,947.0 L1192.7,947.1 L1194.7,948.0 L1196.7,947.9 L1198.8,947.7 L1200.8,947.6 L1202.8,946.9 L1204.8,947.1 L1206.8,946.8 L1208.8,947.8 L1210.8,947.6 L1212.9,947.5 L1214.9,946.5 L1216.9,947.7 L1218.9,947.8 L1220.9,947.3 L1222.9,947.7 L1225.0,947.8 L1227.0,947.5 L1229.0,947.0 L1231.0,947.4 L1233.0,947.8 L1235.0,946.5 L1237.1,947.5 L1239.1,946.6 L1241.1,947.1 L1243.1,946.1 L1245.1,946.5 L1247.2,947.3 L1249.2,946.5 L1251.2,946.3 L1253.2,945.9 L1255.2,945.9 L1257.3,946.3 L1259.3,946.6 L1261.3,945.2 L1263.3,945.4 L1265.3,945.4 L1267.4,945.2 L1269.4,946.2 L1271.4,945.8 L1273.4,945.0 L1275.4,943.8 L1277.4,944.8 L1279.5,944.2 L1281.5,944.0 L1283.5,942.7 L1285.5,942.3 L1287.5,942.1 L1289.5,941.7 L1291.5,941.4 L1293.5,941.9 L1295.5,941.3 L1297.6,939.7 L1299.6,939.9 L1301.6,939.0 L1303.6,939.2 L1305.6,938.1 L1307.6,937.4 L1309.7,936.7 L1311.7,935.1 L1313.7,934.7 L1315.8,932.6 L1317.8,931.9 L1319.8,930.5 L1321.8,930.3 L1323.8,928.9 L1325.8,927.2 L1327.9,925.4 L1329.9,924.2 L1331.9,922.4 L1333.9,922.9 L1335.9,921.8 L1338.0,921.4 L1340.0,921.1 L1342.0,921.5 L1344.0,920.3 L1346.0,920.9 L1348.1,919.9 L1350.1,918.8 L1352.1,918.6 L1354.1,919.6 L1356.1,918.6 L1358.2,918.5 L1360.2,917.6 L1362.2,918.5 L1364.2,917.6 L1366.2,916.8 L1368.3,916.8 L1370.3,916.9 L1372.3,916.3 L1374.3,916.3 L1376.3,916.4 L1378.3,915.3 L1380.3,916.2 L1382.3,915.2 L1384.4,914.8 L1386.4,914.4 L1388.4,913.8 L1390.4,913.6 L1392.4,912.6 L1394.4,911.7 L1396.4,910.5 L1398.4,910.0 L1400.5,909.1 L1402.5,908.4 L1404.5,907.3 L1406.5,906.5 L1408.5,904.7 L1410.5,905.8 L1412.5,905.0 L1414.5,905.9 L1416.6,906.4 L1418.6,905.8 L1420.6,906.9" class="b"/>
<path d="M1118.0,941.2 L1160.0,941.0 L1214.9,940.5 L1260.0,940.0 L1307.8,937.5 L1340.0,933.0 L1369.8,927.2 L1400.0,920.0 L1421.4,914.3 L1440.0,905.0 L1452.4,896.2 L1466.0,884.0 L1478.2,870.4 L1490.0,851.0 L1498.8,829.1 L1506.0,808.0 L1511.7,787.8 L1516.0,767.0 L1519.5,746.5" class="rdd"/>
<rect x="62.8" y="48.9" width="399.9" height="455.2" class="ax"/>
<line x1="62.8" y1="504.1" x2="67.8" y2="504.1" class="tk"/>
<line x1="462.7" y1="504.1" x2="457.7" y2="504.1" class="tk"/>
<line x1="62.8" y1="421.3" x2="67.8" y2="421.3" class="tk"/>
<line x1="462.7" y1="421.3" x2="457.7" y2="421.3" class="tk"/>
<line x1="62.8" y1="338.6" x2="67.8" y2="338.6" class="tk"/>
<line x1="462.7" y1="338.6" x2="457.7" y2="338.6" class="tk"/>
<line x1="62.8" y1="255.8" x2="67.8" y2="255.8" class="tk"/>
<line x1="462.7" y1="255.8" x2="457.7" y2="255.8" class="tk"/>
<line x1="62.8" y1="173.0" x2="67.8" y2="173.0" class="tk"/>
<line x1="462.7" y1="173.0" x2="457.7" y2="173.0" class="tk"/>
<line x1="62.8" y1="90.3" x2="67.8" y2="90.3" class="tk"/>
<line x1="462.7" y1="90.3" x2="457.7" y2="90.3" class="tk"/>
<line x1="62.8" y1="504.1" x2="62.8" y2="499.1" class="tk"/>
<line x1="62.8" y1="48.9" x2="62.8" y2="53.9" class="tk"/>
<line x1="321.7" y1="504.1" x2="321.7" y2="499.1" class="tk"/>
<line x1="321.7" y1="48.9" x2="321.7" y2="53.9" class="tk"/>
<text x="27.2" y="513.7" font-size="42" fill="#111" textLength="19.5" lengthAdjust="spacingAndGlyphs">0</text>
<text x="27.8" y="430.9" font-size="42" fill="#111" textLength="19.5" lengthAdjust="spacingAndGlyphs">2</text>
<text x="26.3" y="348.2" font-size="42" fill="#111" textLength="19.5" lengthAdjust="spacingAndGlyphs">4</text>
<text x="26.8" y="265.4" font-size="42" fill="#111" textLength="19.5" lengthAdjust="spacingAndGlyphs">6</text>
<text x="27.2" y="182.6" font-size="42" fill="#111" textLength="19.5" lengthAdjust="spacingAndGlyphs">8</text>
<text x="7.7" y="99.9" font-size="42" fill="#111" textLength="39.1" lengthAdjust="spacingAndGlyphs">10</text>
<rect x="589.9" y="48.9" width="403.0" height="455.2" class="ax"/>
<line x1="589.9" y1="504.1" x2="594.9" y2="504.1" class="tk"/>
<line x1="992.9" y1="504.1" x2="987.9" y2="504.1" class="tk"/>
<line x1="589.9" y1="341.5" x2="594.9" y2="341.5" class="tk"/>
<line x1="992.9" y1="341.5" x2="987.9" y2="341.5" class="tk"/>
<line x1="589.9" y1="179.0" x2="594.9" y2="179.0" class="tk"/>
<line x1="992.9" y1="179.0" x2="987.9" y2="179.0" class="tk"/>
<line x1="589.9" y1="504.1" x2="589.9" y2="499.1" class="tk"/>
<line x1="589.9" y1="48.9" x2="589.9" y2="53.9" class="tk"/>
<line x1="850.3" y1="504.1" x2="850.3" y2="499.1" class="tk"/>
<line x1="850.3" y1="48.9" x2="850.3" y2="53.9" class="tk"/>
<text x="554.3" y="513.7" font-size="42" fill="#111" textLength="19.5" lengthAdjust="spacingAndGlyphs">0</text>
<text x="525.0" y="351.1" font-size="42" fill="#111" textLength="48.8" lengthAdjust="spacingAndGlyphs">0.5</text>
<text x="555.1" y="188.6" font-size="42" fill="#111" textLength="19.5" lengthAdjust="spacingAndGlyphs">1</text>
<rect x="1118.8" y="48.9" width="401.3" height="455.2" class="ax"/>
<line x1="1118.8" y1="434.1" x2="1123.8" y2="434.1" class="tk"/>
<line x1="1520.1" y1="434.1" x2="1515.1" y2="434.1" class="tk"/>
<line x1="1118.8" y1="259.0" x2="1123.8" y2="259.0" class="tk"/>
<line x1="1520.1" y1="259.0" x2="1515.1" y2="259.0" class="tk"/>
<line x1="1118.8" y1="83.9" x2="1123.8" y2="83.9" class="tk"/>
<line x1="1520.1" y1="83.9" x2="1515.1" y2="83.9" class="tk"/>
<line x1="1118.8" y1="504.1" x2="1118.8" y2="499.1" class="tk"/>
<line x1="1118.8" y1="48.9" x2="1118.8" y2="53.9" class="tk"/>
<line x1="1377.6" y1="504.1" x2="1377.6" y2="499.1" class="tk"/>
<line x1="1377.6" y1="48.9" x2="1377.6" y2="53.9" class="tk"/>
<text x="1084.0" y="443.7" font-size="42" fill="#111" textLength="19.5" lengthAdjust="spacingAndGlyphs">1</text>
<text x="1053.9" y="268.6" font-size="42" fill="#111" textLength="48.8" lengthAdjust="spacingAndGlyphs">1.5</text>
<text x="1083.8" y="93.5" font-size="42" fill="#111" textLength="19.5" lengthAdjust="spacingAndGlyphs">2</text>
<rect x="62.8" y="551.0" width="399.9" height="455.6" class="ax"/>
<line x1="62.8" y1="1006.6" x2="67.8" y2="1006.6" class="tk"/>
<line x1="462.7" y1="1006.6" x2="457.7" y2="1006.6" class="tk"/>
<line x1="62.8" y1="903.1" x2="67.8" y2="903.1" class="tk"/>
<line x1="462.7" y1="903.1" x2="457.7" y2="903.1" class="tk"/>
<line x1="62.8" y1="799.5" x2="67.8" y2="799.5" class="tk"/>
<line x1="462.7" y1="799.5" x2="457.7" y2="799.5" class="tk"/>
<line x1="62.8" y1="696.0" x2="67.8" y2="696.0" class="tk"/>
<line x1="462.7" y1="696.0" x2="457.7" y2="696.0" class="tk"/>
<line x1="62.8" y1="592.4" x2="67.8" y2="592.4" class="tk"/>
<line x1="462.7" y1="592.4" x2="457.7" y2="592.4" class="tk"/>
<line x1="62.8" y1="1006.6" x2="62.8" y2="1001.6" class="tk"/>
<line x1="62.8" y1="551.0" x2="62.8" y2="556.0" class="tk"/>
<line x1="321.7" y1="1006.6" x2="321.7" y2="1001.6" class="tk"/>
<line x1="321.7" y1="551.0" x2="321.7" y2="556.0" class="tk"/>
<text x="27.2" y="1016.2" font-size="42" fill="#111" textLength="19.5" lengthAdjust="spacingAndGlyphs">0</text>
<text x="-2.1" y="912.7" font-size="42" fill="#111" textLength="48.8" lengthAdjust="spacingAndGlyphs">0.5</text>
<text x="28.0" y="809.1" font-size="42" fill="#111" textLength="19.5" lengthAdjust="spacingAndGlyphs">1</text>
<text x="-2.1" y="705.6" font-size="42" fill="#111" textLength="48.8" lengthAdjust="spacingAndGlyphs">1.5</text>
<text x="27.8" y="602.0" font-size="42" fill="#111" textLength="19.5" lengthAdjust="spacingAndGlyphs">2</text>
<text x="52.8" y="1053.8" font-size="42" fill="#111" textLength="19.5" lengthAdjust="spacingAndGlyphs">0</text>
<text x="311.9" y="1053.8" font-size="42" fill="#111" textLength="19.5" lengthAdjust="spacingAndGlyphs">2</text>
<text x="227.6" y="1105.0" font-size="43" fill="#111" textLength="12.7" lengthAdjust="spacingAndGlyphs">t</text>
<text x="260.2" y="1106.5" font-size="47" fill="#111" textLength="8.9" lengthAdjust="spacingAndGlyphs">[</text>
<text x="269.2" y="1105.0" font-size="39" fill="#111" textLength="17.3" lengthAdjust="spacingAndGlyphs">s</text>
<text x="285.3" y="1106.5" font-size="47" fill="#111" textLength="8.5" lengthAdjust="spacingAndGlyphs">]</text>
<rect x="590.0" y="551.0" width="402.9" height="455.6" class="ax"/>
<line x1="590.0" y1="1006.6" x2="595.0" y2="1006.6" class="tk"/>
<line x1="992.9" y1="1006.6" x2="987.9" y2="1006.6" class="tk"/>
<line x1="590.0" y1="854.7" x2="595.0" y2="854.7" class="tk"/>
<line x1="992.9" y1="854.7" x2="987.9" y2="854.7" class="tk"/>
<line x1="590.0" y1="702.9" x2="595.0" y2="702.9" class="tk"/>
<line x1="992.9" y1="702.9" x2="987.9" y2="702.9" class="tk"/>
<line x1="590.0" y1="551.0" x2="595.0" y2="551.0" class="tk"/>
<line x1="992.9" y1="551.0" x2="987.9" y2="551.0" class="tk"/>
<line x1="590.0" y1="1006.6" x2="590.0" y2="1001.6" class="tk"/>
<line x1="590.0" y1="551.0" x2="590.0" y2="556.0" class="tk"/>
<line x1="850.3" y1="1006.6" x2="850.3" y2="1001.6" class="tk"/>
<line x1="850.3" y1="551.0" x2="850.3" y2="556.0" class="tk"/>
<text x="554.4" y="1016.2" font-size="42" fill="#111" textLength="19.5" lengthAdjust="spacingAndGlyphs">0</text>
<text x="554.4" y="864.3" font-size="42" fill="#111" textLength="19.5" lengthAdjust="spacingAndGlyphs">5</text>
<text x="534.9" y="712.5" font-size="42" fill="#111" textLength="39.1" lengthAdjust="spacingAndGlyphs">10</text>
<text x="534.9" y="560.6" font-size="42" fill="#111" textLength="39.1" lengthAdjust="spacingAndGlyphs">15</text>
<text x="580.0" y="1053.8" font-size="42" fill="#111" textLength="19.5" lengthAdjust="spacingAndGlyphs">0</text>
<text x="840.5" y="1053.8" font-size="42" fill="#111" textLength="19.5" lengthAdjust="spacingAndGlyphs">2</text>
<text x="756.3" y="1105.0" font-size="43" fill="#111" textLength="12.7" lengthAdjust="spacingAndGlyphs">t</text>
<text x="788.9" y="1106.5" font-size="47" fill="#111" textLength="8.9" lengthAdjust="spacingAndGlyphs">[</text>
<text x="797.9" y="1105.0" font-size="39" fill="#111" textLength="17.3" lengthAdjust="spacingAndGlyphs">s</text>
<text x="814.0" y="1106.5" font-size="47" fill="#111" textLength="8.5" lengthAdjust="spacingAndGlyphs">]</text>
<rect x="1118.8" y="551.0" width="401.3" height="455.6" class="ax"/>
<line x1="1118.8" y1="1006.6" x2="1123.8" y2="1006.6" class="tk"/>
<line x1="1520.1" y1="1006.6" x2="1515.1" y2="1006.6" class="tk"/>
<line x1="1118.8" y1="876.4" x2="1123.8" y2="876.4" class="tk"/>
<line x1="1520.1" y1="876.4" x2="1515.1" y2="876.4" class="tk"/>
<line x1="1118.8" y1="746.3" x2="1123.8" y2="746.3" class="tk"/>
<line x1="1520.1" y1="746.3" x2="1515.1" y2="746.3" class="tk"/>
<line x1="1118.8" y1="616.1" x2="1123.8" y2="616.1" class="tk"/>
<line x1="1520.1" y1="616.1" x2="1515.1" y2="616.1" class="tk"/>
<line x1="1118.8" y1="1006.6" x2="1118.8" y2="1001.6" class="tk"/>
<line x1="1118.8" y1="551.0" x2="1118.8" y2="556.0" class="tk"/>
<line x1="1377.6" y1="1006.6" x2="1377.6" y2="1001.6" class="tk"/>
<line x1="1377.6" y1="551.0" x2="1377.6" y2="556.0" class="tk"/>
<text x="1083.2" y="1016.2" font-size="42" fill="#111" textLength="19.5" lengthAdjust="spacingAndGlyphs">0</text>
<text x="1083.8" y="886.0" font-size="42" fill="#111" textLength="19.5" lengthAdjust="spacingAndGlyphs">2</text>
<text x="1082.3" y="755.9" font-size="42" fill="#111" textLength="19.5" lengthAdjust="spacingAndGlyphs">4</text>
<text x="1082.8" y="625.7" font-size="42" fill="#111" textLength="19.5" lengthAdjust="spacingAndGlyphs">6</text>
<text x="1108.8" y="1053.8" font-size="42" fill="#111" textLength="19.5" lengthAdjust="spacingAndGlyphs">0</text>
<text x="1367.8" y="1053.8" font-size="42" fill="#111" textLength="19.5" lengthAdjust="spacingAndGlyphs">2</text>
<text x="1284.3" y="1105.0" font-size="43" fill="#111" textLength="12.7" lengthAdjust="spacingAndGlyphs">t</text>
<text x="1316.9" y="1106.5" font-size="47" fill="#111" textLength="8.9" lengthAdjust="spacingAndGlyphs">[</text>
<text x="1325.9" y="1105.0" font-size="39" fill="#111" textLength="17.3" lengthAdjust="spacingAndGlyphs">s</text>
<text x="1342.0" y="1106.5" font-size="47" fill="#111" textLength="8.5" lengthAdjust="spacingAndGlyphs">]</text>
</svg></div></body></html>
